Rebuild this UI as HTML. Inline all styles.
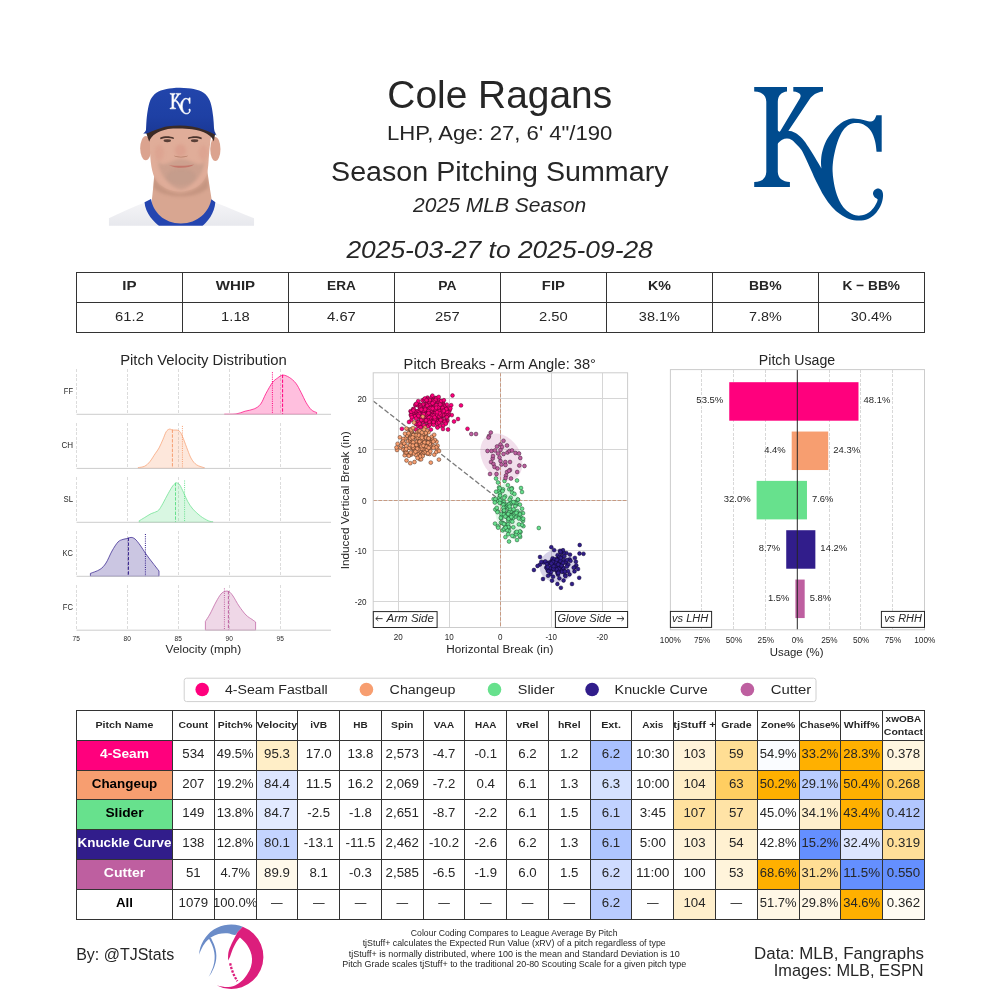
<!DOCTYPE html>
<html><head><meta charset="utf-8"><title>Cole Ragans - Season Pitching Summary</title>
<style>html,body{margin:0;padding:0;background:#fff;}body{width:1000px;height:1000px;overflow:hidden;font-family:"Liberation Sans",sans-serif;}svg{display:block;font-family:"Liberation Sans",sans-serif;}</style></head>
<body>
<svg width="1000" height="1000" viewBox="0 0 1000 1000" font-family="Liberation Sans, sans-serif">
<rect width="1000" height="1000" fill="#ffffff"/>
<g fill="#004B8E">
<path d="M754.2,87.1 H787.0 V91.6 C781.5,92.0 778.0,95.5 777.8,101.8 V172.0 C778.2,178.5 782.5,181.6 789.9,182.0 V186.9 H754.2 V182.0 C762.0,181.6 766.0,178.5 766.3,172.0 V101.8 C766.0,95.5 762.5,92.0 754.2,91.6 Z"/>
<path d="M793.3,87.1 H823.0 V91.6 C816.5,92.3 812.5,95.0 809.4,99.6 L788.3,131.0 L775.0,134.0 V128.0 L779.6,132.2 L799.8,98.5 C801.8,95.5 800.5,92.2 793.3,91.6 Z"/>
<path d="M775.00,132.50 C777.13,132.22 784.47,130.75 787.80,130.80 C791.13,130.85 792.60,131.53 795.00,132.80 C797.40,134.07 799.93,136.00 802.20,138.40 C804.47,140.80 806.47,144.00 808.60,147.20 C810.73,150.40 812.87,154.07 815.00,157.60 C817.13,161.13 820.33,166.60 821.40,168.40 C821.33,167.27 820.87,164.33 821.00,161.60 C821.13,158.87 821.33,155.47 822.20,152.00 C823.07,148.53 824.47,144.27 826.20,140.80 C827.93,137.33 830.47,133.87 832.60,131.20 C834.73,128.53 836.93,126.53 839.00,124.80 C841.07,123.07 842.70,121.83 845.00,120.80 C847.30,119.77 849.90,118.77 852.80,118.60 C855.70,118.43 859.60,119.30 862.40,119.80 C865.20,120.30 867.67,121.57 869.60,121.60 C871.53,121.63 872.87,121.07 874.00,120.00 C875.13,118.93 876.00,116.00 876.40,115.20 L881.70,115.20 L881.70,151.80 L876.60,151.80 C876.33,150.00 875.97,144.50 875.00,141.00 C874.03,137.50 872.70,133.53 870.80,130.80 C868.90,128.07 866.00,125.90 863.60,124.60 C861.20,123.30 858.75,123.00 856.40,123.00 C854.05,123.00 851.73,123.35 849.50,124.60 C847.27,125.85 844.88,127.93 843.00,130.50 C841.12,133.07 839.53,136.58 838.20,140.00 C836.87,143.42 835.87,147.33 835.00,151.00 C834.13,154.67 833.40,158.63 833.00,162.00 C832.60,165.37 832.50,168.03 832.60,171.20 C832.70,174.37 833.03,177.53 833.60,181.00 C834.17,184.47 834.93,188.50 836.00,192.00 C837.07,195.50 838.50,199.17 840.00,202.00 C841.50,204.83 843.00,207.00 845.00,209.00 C847.00,211.00 849.50,212.90 852.00,214.00 C854.50,215.10 857.33,215.77 860.00,215.60 C862.67,215.43 865.75,214.27 868.00,213.00 C870.25,211.73 872.00,209.83 873.50,208.00 C875.00,206.17 876.32,203.47 877.00,202.00 C877.68,200.53 877.50,199.67 877.60,199.20 C877.08,198.83 875.27,197.95 874.50,197.00 C873.73,196.05 873.00,194.67 873.00,193.50 C873.00,192.33 873.67,190.83 874.50,190.00 C875.33,189.17 876.83,188.50 878.00,188.50 C879.17,188.50 880.67,189.08 881.50,190.00 C882.33,190.92 882.83,192.33 883.00,194.00 C883.17,195.67 883.00,197.83 882.50,200.00 C882.00,202.17 881.25,204.67 880.00,207.00 C878.75,209.33 877.00,212.00 875.00,214.00 C873.00,216.00 870.67,217.90 868.00,219.00 C865.33,220.10 862.17,220.60 859.00,220.60 C855.83,220.60 852.17,220.10 849.00,219.00 C845.83,217.90 842.83,216.00 840.00,214.00 C837.17,212.00 834.67,210.00 832.00,207.00 C829.33,204.00 826.50,200.00 824.00,196.00 C821.50,192.00 819.17,187.33 817.00,183.00 C814.83,178.67 812.83,174.00 811.00,170.00 C809.17,166.00 807.58,162.33 806.00,159.00 C804.42,155.67 803.07,152.43 801.50,150.00 C799.93,147.57 798.22,146.07 796.60,144.40 C794.98,142.73 793.40,140.97 791.80,140.00 C790.20,139.03 788.60,138.63 787.00,138.60 C785.40,138.57 783.73,139.00 782.20,139.80 C780.67,140.60 779.00,142.45 777.80,143.40 C776.60,144.35 775.47,145.15 775.00,145.50 Z"/>
</g>
<defs>
<filter id="bl1" color-interpolation-filters="sRGB" x="-5%" y="-5%" width="110%" height="110%"><feGaussianBlur stdDeviation="4"/></filter>
<filter id="bl2" color-interpolation-filters="sRGB" x="-20%" y="-20%" width="140%" height="140%"><feGaussianBlur stdDeviation="10"/></filter>
<filter id="bl3" color-interpolation-filters="sRGB" x="-30%" y="-30%" width="160%" height="160%"><feGaussianBlur stdDeviation="18"/></filter>
<linearGradient id="capg" x1="0" y1="0" x2="0" y2="1"><stop offset="0" stop-color="#2245ab"/><stop offset="0.6" stop-color="#1e40a4"/><stop offset="1" stop-color="#1a3794"/></linearGradient>
<linearGradient id="jer" x1="0" y1="0" x2="0" y2="1"><stop offset="0" stop-color="#f4f4f7"/><stop offset="1" stop-color="#e6e7ec"/></linearGradient>
<clipPath id="phclip"><rect x="25" y="0" width="937" height="940"/></clipPath>
<clipPath id="skinclip"><path d="M292,300 C288,400 290,470 295,527 C300,570 308,600 319,629 C330,655 345,672 363,683 C380,695 398,704 417,710 C440,717 462,720 485,720 C510,720 535,715 559,707 C580,699 598,689 613,676 C632,660 645,640 654,615 C662,590 666,560 668,527 C672,470 676,400 697,300 Z M322,540 C318,640 308,720 300,800 C330,880 420,940 500,945 C580,940 660,880 692,800 C682,720 664,640 656,540 Z"/></clipPath>
</defs>
<g transform="translate(105 80) scale(0.155)" clip-path="url(#phclip)">
<g filter="url(#bl1)">
<path d="M25,960 L25,892 C90,860 170,822 262,788 L480,800 L705,788 C800,822 880,860 962,892 L962,960 Z" fill="url(#jer)"/>
<path d="M322,540 C318,640 308,720 300,800 C330,880 420,940 500,945 C580,940 660,880 692,800 C682,720 664,640 656,540 Z" fill="#d8a691"/>
<path d="M255,788 C262,870 330,935 400,975 L580,975 C650,935 705,870 712,788 L686,770 C672,850 600,926 490,926 C380,926 310,850 297,768 Z" fill="#2445b0"/>
<ellipse cx="263" cy="440" rx="36" ry="78" fill="#dba38f"/>
<ellipse cx="712" cy="445" rx="33" ry="78" fill="#dba38f"/>
<path d="M292,300 C288,400 290,470 295,527 C300,570 308,600 319,629 C330,655 345,672 363,683 C380,695 398,704 417,710 C440,717 462,720 485,720 C510,720 535,715 559,707 C580,699 598,689 613,676 C632,660 645,640 654,615 C662,590 666,560 668,527 C672,470 676,400 697,300 Z" fill="#e0ad99"/>
</g>
<g clip-path="url(#skinclip)"><g filter="url(#bl2)">
<path d="M312,620 C340,690 420,730 485,733 C550,730 630,690 662,620 L668,690 C600,770 380,770 308,690 Z" fill="#b98a76" opacity="0.6"/>
<path d="M340,520 C350,620 430,700 490,708 C550,700 635,620 645,520 C610,580 560,510 492,510 C425,510 375,580 340,520 Z" fill="#a88a7c" opacity="0.35"/>
<ellipse cx="490" cy="625" rx="95" ry="55" fill="#b59686" opacity="0.32"/>
<ellipse cx="487" cy="455" rx="36" ry="40" fill="#d99886" opacity="0.55"/>
<ellipse cx="350" cy="470" rx="30" ry="50" fill="#d99c8a" opacity="0.45"/>
<ellipse cx="635" cy="470" rx="30" ry="50" fill="#d99c8a" opacity="0.45"/>
</g></g>
<g filter="url(#bl1)">
<path d="M262,330 C330,300 420,285 485,283 C560,285 650,302 712,340 L702,396 C690,360 640,328 561,318 C520,312 450,312 406,316 C340,330 300,355 285,398 Z" fill="#3a2a26"/>
<path d="M355,372 C385,358 420,360 445,372 L443,380 C420,372 385,372 358,382 Z" fill="#4a332b"/>
<path d="M535,372 C560,360 595,358 625,372 L622,382 C595,372 560,372 537,380 Z" fill="#4a332b"/>
<ellipse cx="402" cy="392" rx="24" ry="9" fill="#5a4038"/>
<ellipse cx="578" cy="392" rx="24" ry="9" fill="#5a4038"/>
<path d="M412,548 C460,556 530,556 575,545 C540,572 460,574 412,548 Z" fill="#c4766a"/>
<path d="M445,487 C470,497 510,497 535,487 L530,493 C505,502 475,502 450,493 Z" fill="#b9826c"/>
<path d="M246.4,344.5 C258,338 263,330 264.5,321.3 C266,290 267,265 269.7,238.7 C273,210 277,185 282.6,161.3 C288,138 296,118 308.4,104.5 C322,88 340,76 360,68.4 C385,60 410,55 432.3,52.9 C450,50 468,49.3 483.9,49.3 C500,49.3 518,50.5 535.5,52.9 C560,55.5 585,60 607.7,68.4 C628,76 646,88 659.4,104.5 C672,120 680,140 685.2,161.3 C691,185 695,212 698.1,238.7 C701,262 702,288 703.3,311 C705,330 711,345 721.3,357.4 C712,352 700,346 690.3,341.9 C673,334 656,327 638.7,321.3 C612,312 587,305 561.3,300.6 C535,296 510,293.5 483.9,292.9 C458,293 432,294.5 406.5,298.1 C380,302 355,311 329,321.3 C312,328 294,335 277.4,341.9 C266,346 256,347 246.4,344.5 Z" fill="url(#capg)"/>
</g>
<g transform="translate(-349.98 -0.70) scale(1.02 1.0)"><g fill="#ffffff" stroke="#ffffff" stroke-width="3.5" stroke-linejoin="round"><path d="M754.2,87.1 H787.0 V91.6 C781.5,92.0 778.0,95.5 777.8,101.8 V172.0 C778.2,178.5 782.5,181.6 789.9,182.0 V186.9 H754.2 V182.0 C762.0,181.6 766.0,178.5 766.3,172.0 V101.8 C766.0,95.5 762.5,92.0 754.2,91.6 Z"/><path d="M793.3,87.1 H823.0 V91.6 C816.5,92.3 812.5,95.0 809.4,99.6 L788.3,131.0 L775.0,134.0 V128.0 L779.6,132.2 L799.8,98.5 C801.8,95.5 800.5,92.2 793.3,91.6 Z"/><path d="M775.00,132.50 C777.13,132.22 784.47,130.75 787.80,130.80 C791.13,130.85 792.60,131.53 795.00,132.80 C797.40,134.07 799.93,136.00 802.20,138.40 C804.47,140.80 806.47,144.00 808.60,147.20 C810.73,150.40 812.87,154.07 815.00,157.60 C817.13,161.13 820.33,166.60 821.40,168.40 C821.33,167.27 820.87,164.33 821.00,161.60 C821.13,158.87 821.33,155.47 822.20,152.00 C823.07,148.53 824.47,144.27 826.20,140.80 C827.93,137.33 830.47,133.87 832.60,131.20 C834.73,128.53 836.93,126.53 839.00,124.80 C841.07,123.07 842.70,121.83 845.00,120.80 C847.30,119.77 849.90,118.77 852.80,118.60 C855.70,118.43 859.60,119.30 862.40,119.80 C865.20,120.30 867.67,121.57 869.60,121.60 C871.53,121.63 872.87,121.07 874.00,120.00 C875.13,118.93 876.00,116.00 876.40,115.20 L881.70,115.20 L881.70,151.80 L876.60,151.80 C876.33,150.00 875.97,144.50 875.00,141.00 C874.03,137.50 872.70,133.53 870.80,130.80 C868.90,128.07 866.00,125.90 863.60,124.60 C861.20,123.30 858.75,123.00 856.40,123.00 C854.05,123.00 851.73,123.35 849.50,124.60 C847.27,125.85 844.88,127.93 843.00,130.50 C841.12,133.07 839.53,136.58 838.20,140.00 C836.87,143.42 835.87,147.33 835.00,151.00 C834.13,154.67 833.40,158.63 833.00,162.00 C832.60,165.37 832.50,168.03 832.60,171.20 C832.70,174.37 833.03,177.53 833.60,181.00 C834.17,184.47 834.93,188.50 836.00,192.00 C837.07,195.50 838.50,199.17 840.00,202.00 C841.50,204.83 843.00,207.00 845.00,209.00 C847.00,211.00 849.50,212.90 852.00,214.00 C854.50,215.10 857.33,215.77 860.00,215.60 C862.67,215.43 865.75,214.27 868.00,213.00 C870.25,211.73 872.00,209.83 873.50,208.00 C875.00,206.17 876.32,203.47 877.00,202.00 C877.68,200.53 877.50,199.67 877.60,199.20 C877.08,198.83 875.27,197.95 874.50,197.00 C873.73,196.05 873.00,194.67 873.00,193.50 C873.00,192.33 873.67,190.83 874.50,190.00 C875.33,189.17 876.83,188.50 878.00,188.50 C879.17,188.50 880.67,189.08 881.50,190.00 C882.33,190.92 882.83,192.33 883.00,194.00 C883.17,195.67 883.00,197.83 882.50,200.00 C882.00,202.17 881.25,204.67 880.00,207.00 C878.75,209.33 877.00,212.00 875.00,214.00 C873.00,216.00 870.67,217.90 868.00,219.00 C865.33,220.10 862.17,220.60 859.00,220.60 C855.83,220.60 852.17,220.10 849.00,219.00 C845.83,217.90 842.83,216.00 840.00,214.00 C837.17,212.00 834.67,210.00 832.00,207.00 C829.33,204.00 826.50,200.00 824.00,196.00 C821.50,192.00 819.17,187.33 817.00,183.00 C814.83,178.67 812.83,174.00 811.00,170.00 C809.17,166.00 807.58,162.33 806.00,159.00 C804.42,155.67 803.07,152.43 801.50,150.00 C799.93,147.57 798.22,146.07 796.60,144.40 C794.98,142.73 793.40,140.97 791.80,140.00 C790.20,139.03 788.60,138.63 787.00,138.60 C785.40,138.57 783.73,139.00 782.20,139.80 C780.67,140.60 779.00,142.45 777.80,143.40 C776.60,144.35 775.47,145.15 775.00,145.50 Z"/></g></g>
</g>
<text x="499.70" y="108.00" font-size="38.37" text-anchor="middle" fill="#262626" textLength="224.77" lengthAdjust="spacingAndGlyphs">Cole Ragans</text>
<text x="499.70" y="139.80" font-size="20.56" text-anchor="middle" fill="#262626" textLength="225.35" lengthAdjust="spacingAndGlyphs">LHP, Age: 27, 6' 4"/190</text>
<text x="499.80" y="181.00" font-size="27.35" text-anchor="middle" fill="#262626" textLength="337.43" lengthAdjust="spacingAndGlyphs">Season Pitching Summary</text>
<text x="499.60" y="211.80" font-size="20.56" font-style="italic" text-anchor="middle" fill="#262626" textLength="172.97" lengthAdjust="spacingAndGlyphs">2025 MLB Season</text>
<text x="499.60" y="258.00" font-size="24.49" font-style="italic" text-anchor="middle" fill="#262626" textLength="306.37" lengthAdjust="spacingAndGlyphs">2025-03-27 to 2025-09-28</text>
<g stroke="#333333" stroke-width="1" fill="none" shape-rendering="crispEdges">
<rect x="76.50" y="272.50" width="847.80" height="59.80"/>
<path d="M76.50,302.30H924.30"/>
<path d="M182.47,272.50V332.30"/>
<path d="M288.45,272.50V332.30"/>
<path d="M394.42,272.50V332.30"/>
<path d="M500.40,272.50V332.30"/>
<path d="M606.38,272.50V332.30"/>
<path d="M712.35,272.50V332.30"/>
<path d="M818.32,272.50V332.30"/>
</g>
<text x="129.49" y="290.20" font-size="13.67" font-weight="bold" text-anchor="middle" fill="#262626" textLength="14.25" lengthAdjust="spacingAndGlyphs">IP</text>
<text x="129.49" y="321.00" font-size="13.67" text-anchor="middle" fill="#262626" textLength="28.72" lengthAdjust="spacingAndGlyphs">61.2</text>
<text x="235.46" y="290.20" font-size="13.67" font-weight="bold" text-anchor="middle" fill="#262626" textLength="39.28" lengthAdjust="spacingAndGlyphs">WHIP</text>
<text x="235.46" y="321.00" font-size="13.67" text-anchor="middle" fill="#262626" textLength="28.72" lengthAdjust="spacingAndGlyphs">1.18</text>
<text x="341.44" y="290.20" font-size="13.67" font-weight="bold" text-anchor="middle" fill="#262626" textLength="28.73" lengthAdjust="spacingAndGlyphs">ERA</text>
<text x="341.44" y="321.00" font-size="13.67" text-anchor="middle" fill="#262626" textLength="28.72" lengthAdjust="spacingAndGlyphs">4.67</text>
<text x="447.41" y="290.20" font-size="13.67" font-weight="bold" text-anchor="middle" fill="#262626" textLength="18.25" lengthAdjust="spacingAndGlyphs">PA</text>
<text x="447.41" y="321.00" font-size="13.67" text-anchor="middle" fill="#262626" textLength="24.62" lengthAdjust="spacingAndGlyphs">257</text>
<text x="553.39" y="290.20" font-size="13.67" font-weight="bold" text-anchor="middle" fill="#262626" textLength="23.07" lengthAdjust="spacingAndGlyphs">FIP</text>
<text x="553.39" y="321.00" font-size="13.67" text-anchor="middle" fill="#262626" textLength="28.72" lengthAdjust="spacingAndGlyphs">2.50</text>
<text x="659.36" y="290.20" font-size="13.67" font-weight="bold" text-anchor="middle" fill="#262626" textLength="22.92" lengthAdjust="spacingAndGlyphs">K%</text>
<text x="659.36" y="321.00" font-size="13.67" text-anchor="middle" fill="#262626" textLength="40.98" lengthAdjust="spacingAndGlyphs">38.1%</text>
<text x="765.34" y="290.20" font-size="13.67" font-weight="bold" text-anchor="middle" fill="#262626" textLength="32.59" lengthAdjust="spacingAndGlyphs">BB%</text>
<text x="765.34" y="321.00" font-size="13.67" text-anchor="middle" fill="#262626" textLength="32.77" lengthAdjust="spacingAndGlyphs">7.8%</text>
<text x="871.31" y="290.20" font-size="13.67" font-weight="bold" text-anchor="middle" fill="#262626" textLength="57.39" lengthAdjust="spacingAndGlyphs">K − BB%</text>
<text x="871.31" y="321.00" font-size="13.67" text-anchor="middle" fill="#262626" textLength="40.98" lengthAdjust="spacingAndGlyphs">30.4%</text>
<text x="203.50" y="364.60" font-size="13.78" text-anchor="middle" fill="#262626" textLength="166.75" lengthAdjust="spacingAndGlyphs">Pitch Velocity Distribution</text>
<g stroke="#dcdcdc" stroke-width="1" stroke-dasharray="3,1.5" fill="none" shape-rendering="crispEdges">
<path d="M76.50,369.00V414.30"/>
<path d="M127.50,369.00V414.30"/>
<path d="M178.50,369.00V414.30"/>
<path d="M229.50,369.00V414.30"/>
<path d="M280.50,369.00V414.30"/>
<path d="M76.50,423.20V468.40"/>
<path d="M127.50,423.20V468.40"/>
<path d="M178.50,423.20V468.40"/>
<path d="M229.50,423.20V468.40"/>
<path d="M280.50,423.20V468.40"/>
<path d="M76.50,477.20V522.30"/>
<path d="M127.50,477.20V522.30"/>
<path d="M178.50,477.20V522.30"/>
<path d="M229.50,477.20V522.30"/>
<path d="M280.50,477.20V522.30"/>
<path d="M76.50,531.20V576.30"/>
<path d="M127.50,531.20V576.30"/>
<path d="M178.50,531.20V576.30"/>
<path d="M229.50,531.20V576.30"/>
<path d="M280.50,531.20V576.30"/>
<path d="M76.50,585.20V630.20"/>
<path d="M127.50,585.20V630.20"/>
<path d="M178.50,585.20V630.20"/>
<path d="M229.50,585.20V630.20"/>
<path d="M280.50,585.20V630.20"/>
</g>
<path d="M224.30,414.30 L224.30,414.30 C226.25,414.25 232.53,414.52 236.00,414.00 C239.47,413.48 242.07,412.05 245.10,411.20 C248.13,410.35 251.60,410.10 254.20,408.90 C256.80,407.70 258.75,406.55 260.70,404.00 C262.65,401.45 263.95,397.17 265.90,393.60 C267.85,390.03 270.45,385.20 272.40,382.60 C274.35,380.00 275.87,379.25 277.60,378.00 C279.33,376.75 280.85,375.20 282.80,375.10 C284.75,375.00 287.13,376.05 289.30,377.40 C291.47,378.75 293.85,380.72 295.80,383.20 C297.75,385.68 299.27,389.05 301.00,392.30 C302.73,395.55 304.47,399.77 306.20,402.70 C307.93,405.63 309.67,408.27 311.40,409.90 C313.13,411.53 315.73,412.07 316.60,412.50 L316.60,414.30 Z" fill="#FF007D" fill-opacity="0.25" stroke="#FF007D" stroke-opacity="0.8" stroke-width="0.9" stroke-linejoin="round"/>
<path d="M282.60,374.71V414.30" stroke="#FF007D" stroke-width="1" stroke-dasharray="3.4,1.4" fill="none"/>
<path d="M272.40,372.20V414.30" stroke="#FF007D" stroke-width="1" stroke-dasharray="1,1.2" fill="none"/>
<path d="M138.20,468.40 L138.20,467.60 C139.28,467.37 142.75,467.20 144.70,466.20 C146.65,465.20 148.17,463.67 149.90,461.60 C151.63,459.53 153.58,456.07 155.10,453.80 C156.62,451.53 157.70,450.38 159.00,448.00 C160.30,445.62 161.70,442.22 162.90,439.50 C164.10,436.78 165.12,433.43 166.20,431.70 C167.28,429.97 168.32,429.37 169.40,429.10 C170.48,428.83 171.40,429.93 172.70,430.10 C174.00,430.27 175.90,429.72 177.20,430.10 C178.50,430.48 179.42,430.83 180.50,432.40 C181.58,433.97 182.52,436.58 183.70,439.50 C184.88,442.42 186.30,446.65 187.60,449.90 C188.90,453.15 189.98,456.50 191.50,459.00 C193.02,461.50 194.53,463.43 196.70,464.90 C198.87,466.37 203.20,467.32 204.50,467.80 L204.50,468.40 Z" fill="#F79E70" fill-opacity="0.25" stroke="#F79E70" stroke-opacity="0.8" stroke-width="0.9" stroke-linejoin="round"/>
<path d="M172.40,429.51V468.40" stroke="#F79E70" stroke-width="1" stroke-dasharray="3.4,1.4" fill="none"/>
<path d="M182.40,425.90V468.40" stroke="#F79E70" stroke-width="1" stroke-dasharray="1,1.2" fill="none"/>
<path d="M139.20,522.30 L139.20,520.80 C140.12,520.25 142.70,518.70 144.70,517.50 C146.70,516.30 149.03,514.68 151.20,513.60 C153.37,512.52 155.97,512.30 157.70,511.00 C159.43,509.70 160.08,508.28 161.60,505.80 C163.12,503.32 165.07,499.23 166.80,496.10 C168.53,492.97 170.58,489.13 172.00,487.00 C173.42,484.87 174.43,483.97 175.30,483.30 C176.17,482.63 176.45,482.72 177.20,483.00 C177.95,483.28 178.72,483.37 179.80,485.00 C180.88,486.63 182.40,490.08 183.70,492.80 C185.00,495.52 186.08,498.60 187.60,501.30 C189.12,504.00 190.63,506.52 192.80,509.00 C194.97,511.48 198.00,514.23 200.60,516.20 C203.20,518.17 206.33,519.87 208.40,520.80 C210.47,521.73 212.23,521.63 213.00,521.80 L213.00,522.30 Z" fill="#67E18D" fill-opacity="0.25" stroke="#67E18D" stroke-opacity="0.8" stroke-width="0.9" stroke-linejoin="round"/>
<path d="M175.50,482.77V522.30" stroke="#67E18D" stroke-width="1" stroke-dasharray="3.4,1.4" fill="none"/>
<path d="M184.60,480.50V522.30" stroke="#67E18D" stroke-width="1" stroke-dasharray="1,1.2" fill="none"/>
<path d="M90.40,576.30 L90.40,573.40 C92.00,572.73 97.40,571.13 100.00,569.40 C102.60,567.67 104.00,566.07 106.00,563.00 C108.00,559.93 110.00,554.50 112.00,551.00 C114.00,547.50 116.17,543.93 118.00,542.00 C119.83,540.07 121.50,539.97 123.00,539.40 C124.50,538.83 125.67,538.93 127.00,538.60 C128.33,538.27 129.67,537.33 131.00,537.40 C132.33,537.47 133.50,537.73 135.00,539.00 C136.50,540.27 138.17,542.50 140.00,545.00 C141.83,547.50 144.00,551.17 146.00,554.00 C148.00,556.83 149.83,559.17 152.00,562.00 C154.17,564.83 157.83,569.50 159.00,571.00 L159.00,576.30 Z" fill="#311D8B" fill-opacity="0.25" stroke="#311D8B" stroke-opacity="0.8" stroke-width="0.9" stroke-linejoin="round"/>
<path d="M128.40,537.68V576.30" stroke="#311D8B" stroke-width="1" stroke-dasharray="3.4,1.4" fill="none"/>
<path d="M145.40,534.00V576.30" stroke="#311D8B" stroke-width="1" stroke-dasharray="1,1.2" fill="none"/>
<path d="M205.40,630.20 L205.40,621.40 C206.17,620.17 208.23,617.23 210.00,614.00 C211.77,610.77 214.17,605.33 216.00,602.00 C217.83,598.67 219.50,595.77 221.00,594.00 C222.50,592.23 223.67,591.80 225.00,591.40 C226.33,591.00 227.67,590.83 229.00,591.60 C230.33,592.37 231.33,593.60 233.00,596.00 C234.67,598.40 236.83,602.83 239.00,606.00 C241.17,609.17 243.83,612.77 246.00,615.00 C248.17,617.23 250.40,618.23 252.00,619.40 C253.60,620.57 255.00,621.57 255.60,622.00 L255.60,630.20 Z" fill="#BE5FA0" fill-opacity="0.25" stroke="#BE5FA0" stroke-opacity="0.8" stroke-width="0.9" stroke-linejoin="round"/>
<path d="M228.40,591.07V630.20" stroke="#BE5FA0" stroke-width="1" stroke-dasharray="3.4,1.4" fill="none"/>
<path d="M224.40,588.40V630.20" stroke="#BE5FA0" stroke-width="1" stroke-dasharray="1,1.2" fill="none"/>
<g stroke="#cccccc" stroke-width="1" fill="none">
<path d="M76.50,414.30H331.00"/>
<path d="M76.50,468.40H331.00"/>
<path d="M76.50,522.30H331.00"/>
<path d="M76.50,576.30H331.00"/>
<path d="M76.50,630.20H331.00"/>
</g>
<text x="73.00" y="393.80" font-size="9.75" text-anchor="end" fill="#262626" textLength="9.21" lengthAdjust="spacingAndGlyphs">FF</text>
<text x="73.00" y="447.90" font-size="9.75" text-anchor="end" fill="#262626" textLength="11.61" lengthAdjust="spacingAndGlyphs">CH</text>
<text x="73.00" y="501.80" font-size="9.75" text-anchor="end" fill="#262626" textLength="9.54" lengthAdjust="spacingAndGlyphs">SL</text>
<text x="73.00" y="555.80" font-size="9.75" text-anchor="end" fill="#262626" textLength="10.40" lengthAdjust="spacingAndGlyphs">KC</text>
<text x="73.00" y="609.70" font-size="9.75" text-anchor="end" fill="#262626" textLength="10.19" lengthAdjust="spacingAndGlyphs">FC</text>
<text x="76.20" y="641.00" font-size="6.89" text-anchor="middle" fill="#262626" textLength="7.28" lengthAdjust="spacingAndGlyphs">75</text>
<text x="127.20" y="641.00" font-size="6.89" text-anchor="middle" fill="#262626" textLength="7.28" lengthAdjust="spacingAndGlyphs">80</text>
<text x="178.20" y="641.00" font-size="6.89" text-anchor="middle" fill="#262626" textLength="7.28" lengthAdjust="spacingAndGlyphs">85</text>
<text x="229.20" y="641.00" font-size="6.89" text-anchor="middle" fill="#262626" textLength="7.28" lengthAdjust="spacingAndGlyphs">90</text>
<text x="280.20" y="641.00" font-size="6.89" text-anchor="middle" fill="#262626" textLength="7.28" lengthAdjust="spacingAndGlyphs">95</text>
<text x="203.40" y="653.00" font-size="11.02" text-anchor="middle" fill="#262626" textLength="75.54" lengthAdjust="spacingAndGlyphs">Velocity (mph)</text>
<text x="499.80" y="368.80" font-size="13.78" text-anchor="middle" fill="#262626" textLength="192.34" lengthAdjust="spacingAndGlyphs">Pitch Breaks - Arm Angle: 38°</text>
<rect x="373.20" y="372.80" width="254.40" height="254.70" fill="#fff" stroke="none"/>
<g stroke="#d6d6d6" stroke-width="1" fill="none" shape-rendering="crispEdges">
<path d="M602.50,372.80V627.50"/>
<path d="M373.20,601.50H627.60"/>
<path d="M551.50,372.80V627.50"/>
<path d="M373.20,550.50H627.60"/>
<path d="M500.50,372.80V627.50"/>
<path d="M373.20,500.50H627.60"/>
<path d="M449.50,372.80V627.50"/>
<path d="M373.20,449.50H627.60"/>
<path d="M398.50,372.80V627.50"/>
<path d="M373.20,398.50H627.60"/>
</g>
<g stroke="#c79a82" stroke-width="1" stroke-dasharray="3.6,1.6" fill="none">
<path d="M500.50,372.80V627.50"/>
<path d="M373.20,500.50H627.60"/>
</g>
<path d="M373.20,400.94L496.00,497.04" stroke="#7a7a7a" stroke-width="1.3" stroke-dasharray="5,2.2" fill="none"/>
<ellipse cx="432.50" cy="412.50" rx="17.00" ry="13.00" transform="rotate(-15 432.50 412.50)" fill="#FF007D" fill-opacity="0.12"/>
<ellipse cx="418.50" cy="443.00" rx="17.00" ry="14.00" transform="rotate(-10 418.50 443.00)" fill="#F79E70" fill-opacity="0.18"/>
<ellipse cx="501.40" cy="457.20" rx="25.50" ry="19.00" transform="rotate(57 501.40 457.20)" fill="#BE5FA0" fill-opacity="0.20"/>
<ellipse cx="508.60" cy="511.50" rx="28.00" ry="13.50" transform="rotate(80 508.60 511.50)" fill="#67E18D" fill-opacity="0.20"/>
<ellipse cx="557.40" cy="565.80" rx="18.00" ry="16.50" transform="rotate(-10 557.40 565.80)" fill="#311D8B" fill-opacity="0.20"/>
<g fill="#FF007D" stroke="#4d0626" stroke-width="0.55" stroke-opacity="0.9"><circle cx="430.2" cy="416.6" r="1.9"/><circle cx="429.0" cy="410.8" r="1.9"/><circle cx="423.0" cy="413.0" r="1.9"/><circle cx="441.9" cy="413.0" r="1.9"/><circle cx="441.0" cy="412.0" r="1.9"/><circle cx="435.3" cy="412.9" r="1.9"/><circle cx="418.4" cy="422.1" r="1.9"/><circle cx="436.8" cy="414.9" r="1.9"/><circle cx="422.9" cy="411.2" r="1.9"/><circle cx="434.1" cy="411.5" r="1.9"/><circle cx="434.9" cy="406.9" r="1.9"/><circle cx="434.9" cy="414.6" r="1.9"/><circle cx="428.7" cy="425.9" r="1.9"/><circle cx="438.4" cy="419.7" r="1.9"/><circle cx="424.8" cy="408.7" r="1.9"/><circle cx="428.3" cy="412.5" r="1.9"/><circle cx="437.5" cy="412.9" r="1.9"/><circle cx="425.9" cy="406.8" r="1.9"/><circle cx="429.1" cy="422.2" r="1.9"/><circle cx="424.9" cy="416.0" r="1.9"/><circle cx="432.6" cy="401.2" r="1.9"/><circle cx="434.2" cy="421.5" r="1.9"/><circle cx="413.3" cy="414.6" r="1.9"/><circle cx="429.1" cy="407.0" r="1.9"/><circle cx="435.7" cy="411.0" r="1.9"/><circle cx="420.2" cy="421.5" r="1.9"/><circle cx="439.0" cy="417.7" r="1.9"/><circle cx="444.7" cy="411.9" r="1.9"/><circle cx="430.3" cy="403.2" r="1.9"/><circle cx="435.8" cy="406.9" r="1.9"/><circle cx="425.3" cy="404.6" r="1.9"/><circle cx="422.1" cy="410.9" r="1.9"/><circle cx="419.2" cy="417.3" r="1.9"/><circle cx="445.1" cy="413.4" r="1.9"/><circle cx="433.3" cy="406.6" r="1.9"/><circle cx="423.4" cy="421.8" r="1.9"/><circle cx="441.4" cy="411.2" r="1.9"/><circle cx="434.4" cy="415.0" r="1.9"/><circle cx="446.5" cy="413.4" r="1.9"/><circle cx="437.0" cy="415.2" r="1.9"/><circle cx="420.0" cy="424.9" r="1.9"/><circle cx="440.8" cy="414.1" r="1.9"/><circle cx="413.2" cy="412.4" r="1.9"/><circle cx="435.7" cy="398.0" r="1.9"/><circle cx="431.7" cy="420.0" r="1.9"/><circle cx="422.9" cy="426.6" r="1.9"/><circle cx="436.1" cy="410.2" r="1.9"/><circle cx="435.5" cy="416.3" r="1.9"/><circle cx="434.5" cy="420.2" r="1.9"/><circle cx="425.0" cy="411.0" r="1.9"/><circle cx="440.6" cy="410.4" r="1.9"/><circle cx="425.5" cy="421.0" r="1.9"/><circle cx="443.5" cy="406.2" r="1.9"/><circle cx="419.2" cy="414.6" r="1.9"/><circle cx="429.7" cy="410.7" r="1.9"/><circle cx="442.0" cy="402.3" r="1.9"/><circle cx="440.3" cy="400.9" r="1.9"/><circle cx="425.7" cy="418.6" r="1.9"/><circle cx="442.9" cy="416.0" r="1.9"/><circle cx="434.8" cy="412.7" r="1.9"/><circle cx="433.8" cy="416.2" r="1.9"/><circle cx="430.4" cy="414.8" r="1.9"/><circle cx="436.5" cy="411.3" r="1.9"/><circle cx="439.2" cy="414.8" r="1.9"/><circle cx="449.6" cy="410.4" r="1.9"/><circle cx="427.1" cy="410.8" r="1.9"/><circle cx="433.0" cy="419.0" r="1.9"/><circle cx="429.2" cy="415.9" r="1.9"/><circle cx="422.1" cy="416.7" r="1.9"/><circle cx="435.4" cy="413.3" r="1.9"/><circle cx="428.9" cy="418.0" r="1.9"/><circle cx="433.1" cy="408.2" r="1.9"/><circle cx="426.5" cy="413.0" r="1.9"/><circle cx="429.4" cy="412.6" r="1.9"/><circle cx="438.3" cy="402.1" r="1.9"/><circle cx="432.6" cy="419.3" r="1.9"/><circle cx="441.6" cy="421.1" r="1.9"/><circle cx="416.0" cy="413.7" r="1.9"/><circle cx="429.6" cy="417.6" r="1.9"/><circle cx="438.5" cy="400.0" r="1.9"/><circle cx="434.9" cy="400.6" r="1.9"/><circle cx="435.1" cy="420.5" r="1.9"/><circle cx="430.5" cy="414.2" r="1.9"/><circle cx="438.7" cy="411.8" r="1.9"/><circle cx="433.4" cy="423.4" r="1.9"/><circle cx="440.1" cy="408.2" r="1.9"/><circle cx="439.0" cy="408.7" r="1.9"/><circle cx="433.9" cy="417.1" r="1.9"/><circle cx="434.6" cy="416.5" r="1.9"/><circle cx="415.5" cy="405.3" r="1.9"/><circle cx="435.2" cy="404.4" r="1.9"/><circle cx="420.0" cy="404.5" r="1.9"/><circle cx="443.9" cy="415.0" r="1.9"/><circle cx="442.7" cy="402.7" r="1.9"/><circle cx="429.5" cy="404.5" r="1.9"/><circle cx="441.0" cy="421.9" r="1.9"/><circle cx="426.4" cy="425.3" r="1.9"/><circle cx="439.8" cy="409.1" r="1.9"/><circle cx="429.6" cy="408.5" r="1.9"/><circle cx="435.7" cy="414.5" r="1.9"/><circle cx="442.8" cy="402.1" r="1.9"/><circle cx="444.0" cy="420.4" r="1.9"/><circle cx="443.9" cy="408.1" r="1.9"/><circle cx="426.8" cy="421.2" r="1.9"/><circle cx="432.7" cy="413.1" r="1.9"/><circle cx="443.5" cy="407.6" r="1.9"/><circle cx="410.8" cy="414.8" r="1.9"/><circle cx="416.7" cy="422.3" r="1.9"/><circle cx="433.2" cy="407.5" r="1.9"/><circle cx="432.9" cy="418.3" r="1.9"/><circle cx="434.5" cy="421.6" r="1.9"/><circle cx="432.8" cy="419.9" r="1.9"/><circle cx="447.3" cy="420.5" r="1.9"/><circle cx="427.2" cy="420.1" r="1.9"/><circle cx="413.2" cy="409.0" r="1.9"/><circle cx="416.2" cy="424.2" r="1.9"/><circle cx="420.7" cy="415.1" r="1.9"/><circle cx="429.8" cy="412.7" r="1.9"/><circle cx="426.7" cy="415.4" r="1.9"/><circle cx="447.2" cy="408.9" r="1.9"/><circle cx="437.9" cy="418.3" r="1.9"/><circle cx="427.6" cy="404.1" r="1.9"/><circle cx="428.5" cy="421.2" r="1.9"/><circle cx="416.1" cy="411.9" r="1.9"/><circle cx="441.7" cy="415.8" r="1.9"/><circle cx="433.0" cy="418.1" r="1.9"/><circle cx="430.9" cy="403.9" r="1.9"/><circle cx="416.7" cy="411.4" r="1.9"/><circle cx="438.6" cy="406.5" r="1.9"/><circle cx="422.3" cy="409.1" r="1.9"/><circle cx="417.9" cy="415.0" r="1.9"/><circle cx="421.8" cy="417.6" r="1.9"/><circle cx="411.5" cy="419.9" r="1.9"/><circle cx="422.5" cy="400.3" r="1.9"/><circle cx="437.3" cy="409.0" r="1.9"/><circle cx="410.5" cy="411.2" r="1.9"/><circle cx="433.2" cy="408.7" r="1.9"/><circle cx="439.6" cy="416.0" r="1.9"/><circle cx="437.9" cy="413.3" r="1.9"/><circle cx="444.3" cy="414.2" r="1.9"/><circle cx="431.8" cy="397.0" r="1.9"/><circle cx="441.6" cy="419.7" r="1.9"/><circle cx="428.1" cy="409.9" r="1.9"/><circle cx="424.6" cy="419.3" r="1.9"/><circle cx="447.8" cy="407.6" r="1.9"/><circle cx="438.0" cy="417.6" r="1.9"/><circle cx="423.4" cy="413.8" r="1.9"/><circle cx="435.5" cy="417.6" r="1.9"/><circle cx="430.9" cy="411.2" r="1.9"/><circle cx="422.0" cy="412.2" r="1.9"/><circle cx="439.5" cy="411.3" r="1.9"/><circle cx="422.6" cy="408.5" r="1.9"/><circle cx="437.8" cy="414.5" r="1.9"/><circle cx="447.0" cy="411.8" r="1.9"/><circle cx="431.8" cy="416.3" r="1.9"/><circle cx="416.3" cy="424.0" r="1.9"/><circle cx="433.1" cy="406.9" r="1.9"/><circle cx="446.2" cy="422.3" r="1.9"/><circle cx="418.1" cy="410.9" r="1.9"/><circle cx="434.4" cy="413.1" r="1.9"/><circle cx="426.3" cy="406.6" r="1.9"/><circle cx="451.8" cy="415.1" r="1.9"/><circle cx="418.7" cy="405.7" r="1.9"/><circle cx="448.1" cy="415.7" r="1.9"/><circle cx="448.8" cy="414.2" r="1.9"/><circle cx="424.3" cy="416.2" r="1.9"/><circle cx="411.3" cy="412.0" r="1.9"/><circle cx="431.9" cy="416.3" r="1.9"/><circle cx="424.9" cy="413.2" r="1.9"/><circle cx="436.2" cy="414.1" r="1.9"/><circle cx="437.4" cy="412.6" r="1.9"/><circle cx="430.0" cy="418.7" r="1.9"/><circle cx="430.5" cy="406.6" r="1.9"/><circle cx="426.0" cy="413.9" r="1.9"/><circle cx="430.8" cy="413.8" r="1.9"/><circle cx="431.8" cy="413.7" r="1.9"/><circle cx="428.1" cy="404.0" r="1.9"/><circle cx="437.0" cy="418.9" r="1.9"/><circle cx="435.0" cy="410.2" r="1.9"/><circle cx="433.7" cy="404.8" r="1.9"/><circle cx="415.0" cy="417.0" r="1.9"/><circle cx="424.7" cy="419.7" r="1.9"/><circle cx="425.2" cy="425.8" r="1.9"/><circle cx="425.8" cy="403.8" r="1.9"/><circle cx="425.7" cy="417.8" r="1.9"/><circle cx="436.1" cy="412.7" r="1.9"/><circle cx="445.7" cy="414.2" r="1.9"/><circle cx="432.4" cy="416.7" r="1.9"/><circle cx="447.6" cy="415.7" r="1.9"/><circle cx="438.6" cy="402.7" r="1.9"/><circle cx="431.5" cy="417.9" r="1.9"/><circle cx="430.8" cy="420.6" r="1.9"/><circle cx="438.3" cy="417.5" r="1.9"/><circle cx="442.0" cy="408.3" r="1.9"/><circle cx="430.0" cy="419.4" r="1.9"/><circle cx="440.1" cy="410.4" r="1.9"/><circle cx="421.6" cy="416.4" r="1.9"/><circle cx="436.6" cy="419.6" r="1.9"/><circle cx="438.4" cy="411.0" r="1.9"/><circle cx="439.9" cy="414.4" r="1.9"/><circle cx="433.4" cy="412.4" r="1.9"/><circle cx="430.6" cy="417.8" r="1.9"/><circle cx="421.2" cy="410.4" r="1.9"/><circle cx="429.0" cy="402.3" r="1.9"/><circle cx="424.2" cy="399.4" r="1.9"/><circle cx="426.5" cy="418.0" r="1.9"/><circle cx="436.4" cy="410.9" r="1.9"/><circle cx="427.0" cy="403.1" r="1.9"/><circle cx="448.4" cy="412.1" r="1.9"/><circle cx="439.5" cy="404.0" r="1.9"/><circle cx="426.7" cy="400.2" r="1.9"/><circle cx="439.9" cy="417.3" r="1.9"/><circle cx="414.8" cy="416.3" r="1.9"/><circle cx="433.9" cy="398.8" r="1.9"/><circle cx="413.7" cy="409.0" r="1.9"/><circle cx="423.6" cy="404.1" r="1.9"/><circle cx="432.2" cy="414.2" r="1.9"/><circle cx="438.3" cy="416.0" r="1.9"/><circle cx="446.7" cy="417.4" r="1.9"/><circle cx="419.2" cy="411.8" r="1.9"/><circle cx="420.4" cy="407.3" r="1.9"/><circle cx="430.8" cy="412.7" r="1.9"/><circle cx="433.0" cy="400.3" r="1.9"/><circle cx="420.7" cy="415.0" r="1.9"/><circle cx="429.2" cy="410.8" r="1.9"/><circle cx="429.6" cy="407.3" r="1.9"/><circle cx="438.2" cy="413.4" r="1.9"/><circle cx="429.6" cy="408.0" r="1.9"/><circle cx="423.0" cy="414.9" r="1.9"/><circle cx="418.7" cy="417.2" r="1.9"/><circle cx="430.4" cy="402.6" r="1.9"/><circle cx="428.8" cy="410.9" r="1.9"/><circle cx="436.6" cy="415.8" r="1.9"/><circle cx="429.7" cy="406.6" r="1.9"/><circle cx="430.1" cy="412.4" r="1.9"/><circle cx="438.4" cy="413.0" r="1.9"/><circle cx="422.8" cy="404.6" r="1.9"/><circle cx="427.0" cy="408.1" r="1.9"/><circle cx="421.6" cy="414.1" r="1.9"/><circle cx="427.4" cy="414.3" r="1.9"/><circle cx="435.4" cy="408.5" r="1.9"/><circle cx="451.2" cy="405.2" r="1.9"/><circle cx="441.3" cy="411.0" r="1.9"/><circle cx="425.4" cy="415.9" r="1.9"/><circle cx="436.5" cy="420.7" r="1.9"/><circle cx="439.8" cy="417.4" r="1.9"/><circle cx="435.7" cy="410.3" r="1.9"/><circle cx="434.1" cy="403.9" r="1.9"/><circle cx="440.0" cy="402.8" r="1.9"/><circle cx="437.4" cy="426.8" r="1.9"/><circle cx="429.6" cy="413.1" r="1.9"/><circle cx="441.7" cy="410.2" r="1.9"/><circle cx="424.9" cy="416.1" r="1.9"/><circle cx="437.8" cy="416.2" r="1.9"/><circle cx="427.8" cy="426.4" r="1.9"/><circle cx="446.1" cy="409.0" r="1.9"/><circle cx="433.1" cy="408.9" r="1.9"/><circle cx="442.6" cy="404.5" r="1.9"/><circle cx="436.6" cy="407.7" r="1.9"/><circle cx="426.7" cy="419.0" r="1.9"/><circle cx="443.1" cy="409.5" r="1.9"/><circle cx="427.0" cy="419.6" r="1.9"/><circle cx="431.6" cy="414.8" r="1.9"/><circle cx="446.8" cy="417.1" r="1.9"/><circle cx="430.9" cy="429.6" r="1.9"/><circle cx="432.9" cy="418.0" r="1.9"/><circle cx="425.8" cy="413.6" r="1.9"/><circle cx="441.3" cy="401.0" r="1.9"/><circle cx="415.5" cy="404.5" r="1.9"/><circle cx="441.0" cy="406.7" r="1.9"/><circle cx="430.4" cy="410.4" r="1.9"/><circle cx="428.5" cy="405.2" r="1.9"/><circle cx="429.2" cy="402.4" r="1.9"/><circle cx="431.4" cy="414.8" r="1.9"/><circle cx="435.2" cy="409.9" r="1.9"/><circle cx="423.9" cy="415.6" r="1.9"/><circle cx="430.0" cy="424.5" r="1.9"/><circle cx="438.0" cy="410.0" r="1.9"/><circle cx="426.2" cy="408.6" r="1.9"/><circle cx="422.7" cy="412.1" r="1.9"/><circle cx="435.0" cy="415.5" r="1.9"/><circle cx="440.1" cy="425.9" r="1.9"/><circle cx="425.4" cy="414.1" r="1.9"/><circle cx="427.2" cy="414.8" r="1.9"/><circle cx="433.6" cy="415.0" r="1.9"/><circle cx="430.1" cy="415.6" r="1.9"/><circle cx="433.3" cy="417.8" r="1.9"/><circle cx="413.4" cy="410.4" r="1.9"/><circle cx="429.7" cy="405.3" r="1.9"/><circle cx="423.5" cy="419.2" r="1.9"/><circle cx="426.9" cy="418.4" r="1.9"/><circle cx="438.5" cy="413.0" r="1.9"/><circle cx="435.8" cy="410.7" r="1.9"/><circle cx="419.1" cy="415.4" r="1.9"/><circle cx="434.5" cy="407.8" r="1.9"/><circle cx="431.9" cy="418.0" r="1.9"/><circle cx="424.9" cy="418.9" r="1.9"/><circle cx="446.8" cy="404.6" r="1.9"/><circle cx="432.5" cy="411.1" r="1.9"/><circle cx="445.5" cy="411.4" r="1.9"/><circle cx="438.1" cy="405.7" r="1.9"/><circle cx="431.3" cy="412.5" r="1.9"/><circle cx="418.5" cy="426.4" r="1.9"/><circle cx="436.3" cy="398.3" r="1.9"/><circle cx="437.8" cy="410.0" r="1.9"/><circle cx="436.1" cy="414.1" r="1.9"/><circle cx="418.0" cy="414.3" r="1.9"/><circle cx="443.5" cy="405.2" r="1.9"/><circle cx="420.2" cy="405.2" r="1.9"/><circle cx="421.4" cy="417.5" r="1.9"/><circle cx="447.0" cy="411.8" r="1.9"/><circle cx="437.5" cy="427.6" r="1.9"/><circle cx="425.8" cy="408.9" r="1.9"/><circle cx="437.1" cy="415.2" r="1.9"/><circle cx="420.6" cy="406.5" r="1.9"/><circle cx="434.5" cy="413.6" r="1.9"/><circle cx="419.7" cy="413.9" r="1.9"/><circle cx="427.6" cy="416.9" r="1.9"/><circle cx="430.3" cy="412.2" r="1.9"/><circle cx="430.2" cy="420.6" r="1.9"/><circle cx="443.0" cy="406.9" r="1.9"/><circle cx="437.6" cy="405.4" r="1.9"/><circle cx="433.4" cy="417.6" r="1.9"/><circle cx="444.1" cy="406.5" r="1.9"/><circle cx="431.2" cy="414.0" r="1.9"/><circle cx="418.4" cy="415.9" r="1.9"/><circle cx="426.2" cy="416.6" r="1.9"/><circle cx="418.2" cy="401.1" r="1.9"/><circle cx="432.3" cy="414.2" r="1.9"/><circle cx="428.3" cy="419.9" r="1.9"/><circle cx="428.1" cy="408.9" r="1.9"/><circle cx="432.9" cy="400.5" r="1.9"/><circle cx="425.5" cy="413.8" r="1.9"/><circle cx="438.6" cy="409.5" r="1.9"/><circle cx="433.1" cy="407.2" r="1.9"/><circle cx="437.0" cy="423.5" r="1.9"/><circle cx="425.9" cy="414.0" r="1.9"/><circle cx="434.8" cy="419.3" r="1.9"/><circle cx="438.2" cy="416.7" r="1.9"/><circle cx="433.7" cy="413.8" r="1.9"/><circle cx="440.3" cy="413.1" r="1.9"/><circle cx="443.9" cy="400.2" r="1.9"/><circle cx="437.9" cy="408.1" r="1.9"/><circle cx="443.3" cy="425.5" r="1.9"/><circle cx="431.0" cy="410.7" r="1.9"/><circle cx="425.7" cy="407.7" r="1.9"/><circle cx="427.1" cy="418.3" r="1.9"/><circle cx="431.9" cy="412.9" r="1.9"/><circle cx="431.6" cy="419.3" r="1.9"/><circle cx="435.6" cy="410.4" r="1.9"/><circle cx="437.0" cy="410.0" r="1.9"/><circle cx="424.0" cy="425.2" r="1.9"/><circle cx="433.9" cy="404.8" r="1.9"/><circle cx="441.5" cy="412.6" r="1.9"/><circle cx="420.6" cy="427.2" r="1.9"/><circle cx="436.0" cy="418.0" r="1.9"/><circle cx="433.0" cy="411.0" r="1.9"/><circle cx="419.7" cy="422.7" r="1.9"/><circle cx="431.3" cy="410.4" r="1.9"/><circle cx="434.7" cy="412.3" r="1.9"/><circle cx="436.8" cy="408.4" r="1.9"/><circle cx="427.5" cy="397.6" r="1.9"/><circle cx="429.0" cy="418.1" r="1.9"/><circle cx="442.5" cy="407.0" r="1.9"/><circle cx="433.2" cy="423.8" r="1.9"/><circle cx="429.9" cy="418.3" r="1.9"/><circle cx="446.2" cy="409.1" r="1.9"/><circle cx="441.0" cy="404.9" r="1.9"/><circle cx="433.2" cy="411.5" r="1.9"/><circle cx="434.5" cy="420.1" r="1.9"/><circle cx="427.3" cy="417.2" r="1.9"/><circle cx="423.2" cy="418.3" r="1.9"/><circle cx="436.0" cy="409.3" r="1.9"/><circle cx="433.4" cy="400.5" r="1.9"/><circle cx="435.4" cy="400.1" r="1.9"/><circle cx="424.4" cy="410.1" r="1.9"/><circle cx="429.5" cy="419.4" r="1.9"/><circle cx="431.5" cy="409.5" r="1.9"/><circle cx="439.0" cy="422.4" r="1.9"/><circle cx="432.2" cy="415.0" r="1.9"/><circle cx="442.8" cy="411.7" r="1.9"/><circle cx="431.9" cy="415.5" r="1.9"/><circle cx="441.1" cy="415.1" r="1.9"/><circle cx="427.3" cy="405.7" r="1.9"/><circle cx="434.2" cy="419.5" r="1.9"/><circle cx="420.2" cy="407.7" r="1.9"/><circle cx="427.9" cy="399.0" r="1.9"/><circle cx="428.5" cy="410.0" r="1.9"/><circle cx="434.2" cy="406.6" r="1.9"/><circle cx="423.1" cy="411.7" r="1.9"/><circle cx="429.9" cy="408.0" r="1.9"/><circle cx="432.9" cy="417.7" r="1.9"/><circle cx="444.8" cy="421.8" r="1.9"/><circle cx="423.9" cy="411.3" r="1.9"/><circle cx="425.1" cy="413.8" r="1.9"/><circle cx="433.7" cy="401.9" r="1.9"/><circle cx="435.5" cy="411.3" r="1.9"/><circle cx="416.1" cy="418.5" r="1.9"/><circle cx="438.7" cy="396.9" r="1.9"/><circle cx="438.9" cy="412.2" r="1.9"/><circle cx="436.4" cy="414.6" r="1.9"/><circle cx="442.5" cy="408.1" r="1.9"/><circle cx="438.4" cy="407.7" r="1.9"/><circle cx="436.4" cy="405.2" r="1.9"/><circle cx="433.6" cy="424.8" r="1.9"/><circle cx="435.1" cy="410.4" r="1.9"/><circle cx="420.1" cy="409.5" r="1.9"/><circle cx="434.8" cy="418.6" r="1.9"/><circle cx="436.1" cy="415.2" r="1.9"/><circle cx="433.5" cy="422.0" r="1.9"/><circle cx="427.1" cy="409.5" r="1.9"/><circle cx="439.4" cy="411.0" r="1.9"/><circle cx="428.1" cy="409.1" r="1.9"/><circle cx="430.3" cy="417.4" r="1.9"/><circle cx="432.5" cy="403.3" r="1.9"/><circle cx="435.5" cy="412.8" r="1.9"/><circle cx="424.1" cy="420.1" r="1.9"/><circle cx="428.5" cy="410.8" r="1.9"/><circle cx="440.7" cy="420.0" r="1.9"/><circle cx="426.3" cy="417.1" r="1.9"/><circle cx="429.3" cy="421.9" r="1.9"/><circle cx="427.3" cy="419.6" r="1.9"/><circle cx="428.6" cy="416.9" r="1.9"/><circle cx="429.5" cy="408.0" r="1.9"/><circle cx="450.4" cy="408.4" r="1.9"/><circle cx="418.6" cy="422.0" r="1.9"/><circle cx="418.5" cy="424.3" r="1.9"/><circle cx="426.7" cy="414.8" r="1.9"/><circle cx="442.7" cy="410.6" r="1.9"/><circle cx="416.4" cy="403.7" r="1.9"/><circle cx="443.1" cy="415.1" r="1.9"/><circle cx="425.9" cy="420.3" r="1.9"/><circle cx="437.0" cy="415.9" r="1.9"/><circle cx="411.2" cy="415.3" r="1.9"/><circle cx="440.6" cy="415.7" r="1.9"/><circle cx="433.8" cy="415.6" r="1.9"/><circle cx="428.7" cy="413.5" r="1.9"/><circle cx="438.5" cy="407.5" r="1.9"/><circle cx="440.1" cy="404.5" r="1.9"/><circle cx="432.9" cy="408.2" r="1.9"/><circle cx="431.7" cy="407.3" r="1.9"/><circle cx="419.5" cy="423.6" r="1.9"/><circle cx="433.2" cy="407.9" r="1.9"/><circle cx="435.0" cy="419.0" r="1.9"/><circle cx="422.8" cy="413.9" r="1.9"/><circle cx="437.1" cy="415.0" r="1.9"/><circle cx="424.9" cy="398.5" r="1.9"/><circle cx="442.9" cy="412.1" r="1.9"/><circle cx="431.1" cy="410.5" r="1.9"/><circle cx="433.1" cy="409.0" r="1.9"/><circle cx="421.3" cy="409.6" r="1.9"/><circle cx="425.2" cy="409.5" r="1.9"/><circle cx="422.5" cy="419.5" r="1.9"/><circle cx="421.2" cy="420.0" r="1.9"/><circle cx="423.3" cy="417.2" r="1.9"/><circle cx="443.9" cy="410.9" r="1.9"/><circle cx="425.2" cy="414.4" r="1.9"/><circle cx="429.8" cy="400.1" r="1.9"/><circle cx="426.5" cy="415.0" r="1.9"/><circle cx="427.5" cy="414.1" r="1.9"/><circle cx="439.2" cy="416.3" r="1.9"/><circle cx="440.4" cy="414.6" r="1.9"/><circle cx="429.0" cy="413.0" r="1.9"/><circle cx="428.6" cy="410.9" r="1.9"/><circle cx="426.9" cy="400.8" r="1.9"/><circle cx="428.5" cy="413.1" r="1.9"/><circle cx="423.0" cy="414.5" r="1.9"/><circle cx="435.7" cy="410.2" r="1.9"/><circle cx="426.5" cy="400.2" r="1.9"/><circle cx="435.5" cy="409.3" r="1.9"/><circle cx="432.4" cy="395.6" r="1.9"/><circle cx="439.6" cy="413.2" r="1.9"/><circle cx="430.7" cy="408.3" r="1.9"/><circle cx="436.2" cy="407.7" r="1.9"/><circle cx="432.6" cy="408.5" r="1.9"/><circle cx="411.8" cy="417.2" r="1.9"/><circle cx="434.6" cy="417.3" r="1.9"/><circle cx="423.8" cy="414.2" r="1.9"/><circle cx="437.1" cy="412.2" r="1.9"/><circle cx="445.8" cy="423.7" r="1.9"/><circle cx="461.0" cy="405.4" r="1.9"/><circle cx="467.5" cy="428.8" r="1.9"/><circle cx="401.9" cy="428.8" r="1.9"/><circle cx="409.0" cy="422.0" r="1.9"/><circle cx="415.8" cy="429.5" r="1.9"/><circle cx="452.5" cy="395.5" r="1.9"/><circle cx="448.0" cy="429.5" r="1.9"/><circle cx="443.0" cy="429.0" r="1.9"/><circle cx="458.0" cy="419.0" r="1.9"/><circle cx="454.0" cy="421.5" r="1.9"/></g>
<g fill="#F79E70" stroke="#4a2f20" stroke-width="0.55" stroke-opacity="0.9"><circle cx="407.8" cy="429.4" r="1.9"/><circle cx="427.4" cy="453.7" r="1.9"/><circle cx="427.5" cy="448.2" r="1.9"/><circle cx="411.5" cy="438.2" r="1.9"/><circle cx="425.8" cy="435.2" r="1.9"/><circle cx="399.9" cy="437.3" r="1.9"/><circle cx="410.9" cy="438.2" r="1.9"/><circle cx="419.6" cy="437.1" r="1.9"/><circle cx="430.4" cy="441.1" r="1.9"/><circle cx="408.7" cy="454.0" r="1.9"/><circle cx="412.6" cy="445.3" r="1.9"/><circle cx="417.6" cy="440.6" r="1.9"/><circle cx="420.6" cy="437.4" r="1.9"/><circle cx="405.3" cy="438.5" r="1.9"/><circle cx="417.8" cy="443.4" r="1.9"/><circle cx="423.4" cy="443.3" r="1.9"/><circle cx="409.9" cy="438.4" r="1.9"/><circle cx="397.6" cy="443.8" r="1.9"/><circle cx="423.0" cy="446.5" r="1.9"/><circle cx="416.7" cy="441.8" r="1.9"/><circle cx="427.0" cy="442.2" r="1.9"/><circle cx="425.5" cy="446.7" r="1.9"/><circle cx="421.1" cy="452.7" r="1.9"/><circle cx="412.2" cy="440.9" r="1.9"/><circle cx="409.7" cy="437.8" r="1.9"/><circle cx="434.3" cy="454.7" r="1.9"/><circle cx="418.7" cy="447.3" r="1.9"/><circle cx="429.9" cy="447.9" r="1.9"/><circle cx="428.5" cy="432.2" r="1.9"/><circle cx="412.3" cy="447.1" r="1.9"/><circle cx="431.8" cy="442.3" r="1.9"/><circle cx="409.5" cy="441.2" r="1.9"/><circle cx="411.0" cy="437.2" r="1.9"/><circle cx="431.8" cy="436.8" r="1.9"/><circle cx="419.9" cy="459.3" r="1.9"/><circle cx="429.6" cy="444.4" r="1.9"/><circle cx="412.5" cy="446.7" r="1.9"/><circle cx="434.0" cy="446.1" r="1.9"/><circle cx="430.1" cy="442.5" r="1.9"/><circle cx="422.8" cy="441.0" r="1.9"/><circle cx="423.1" cy="452.4" r="1.9"/><circle cx="404.3" cy="444.0" r="1.9"/><circle cx="419.8" cy="438.4" r="1.9"/><circle cx="415.7" cy="449.3" r="1.9"/><circle cx="437.6" cy="445.7" r="1.9"/><circle cx="419.9" cy="430.9" r="1.9"/><circle cx="436.5" cy="441.6" r="1.9"/><circle cx="416.8" cy="434.6" r="1.9"/><circle cx="416.6" cy="434.8" r="1.9"/><circle cx="419.0" cy="446.5" r="1.9"/><circle cx="418.5" cy="445.1" r="1.9"/><circle cx="411.0" cy="454.7" r="1.9"/><circle cx="410.3" cy="429.9" r="1.9"/><circle cx="415.6" cy="437.4" r="1.9"/><circle cx="408.1" cy="441.3" r="1.9"/><circle cx="419.8" cy="433.8" r="1.9"/><circle cx="417.8" cy="453.9" r="1.9"/><circle cx="424.4" cy="441.2" r="1.9"/><circle cx="419.1" cy="442.0" r="1.9"/><circle cx="418.1" cy="448.6" r="1.9"/><circle cx="417.1" cy="436.3" r="1.9"/><circle cx="423.7" cy="437.7" r="1.9"/><circle cx="421.1" cy="459.3" r="1.9"/><circle cx="407.1" cy="435.6" r="1.9"/><circle cx="400.4" cy="447.6" r="1.9"/><circle cx="410.4" cy="429.5" r="1.9"/><circle cx="404.3" cy="449.2" r="1.9"/><circle cx="410.3" cy="441.0" r="1.9"/><circle cx="422.2" cy="452.9" r="1.9"/><circle cx="437.4" cy="448.9" r="1.9"/><circle cx="419.5" cy="444.2" r="1.9"/><circle cx="436.3" cy="452.0" r="1.9"/><circle cx="415.4" cy="446.8" r="1.9"/><circle cx="420.8" cy="443.1" r="1.9"/><circle cx="412.2" cy="433.5" r="1.9"/><circle cx="411.7" cy="431.9" r="1.9"/><circle cx="430.1" cy="445.8" r="1.9"/><circle cx="407.6" cy="454.8" r="1.9"/><circle cx="425.0" cy="427.7" r="1.9"/><circle cx="436.2" cy="447.3" r="1.9"/><circle cx="423.4" cy="445.7" r="1.9"/><circle cx="420.1" cy="444.1" r="1.9"/><circle cx="426.9" cy="430.6" r="1.9"/><circle cx="405.0" cy="433.7" r="1.9"/><circle cx="412.2" cy="439.0" r="1.9"/><circle cx="421.7" cy="444.6" r="1.9"/><circle cx="417.8" cy="437.9" r="1.9"/><circle cx="414.5" cy="450.6" r="1.9"/><circle cx="425.4" cy="443.0" r="1.9"/><circle cx="416.2" cy="455.1" r="1.9"/><circle cx="412.8" cy="448.5" r="1.9"/><circle cx="428.8" cy="439.8" r="1.9"/><circle cx="425.0" cy="433.7" r="1.9"/><circle cx="427.8" cy="443.5" r="1.9"/><circle cx="403.4" cy="449.7" r="1.9"/><circle cx="410.5" cy="453.6" r="1.9"/><circle cx="411.4" cy="442.4" r="1.9"/><circle cx="420.4" cy="440.2" r="1.9"/><circle cx="420.0" cy="438.6" r="1.9"/><circle cx="424.4" cy="442.4" r="1.9"/><circle cx="429.1" cy="442.1" r="1.9"/><circle cx="401.1" cy="445.5" r="1.9"/><circle cx="423.3" cy="450.6" r="1.9"/><circle cx="408.9" cy="455.8" r="1.9"/><circle cx="417.1" cy="448.3" r="1.9"/><circle cx="413.6" cy="434.9" r="1.9"/><circle cx="429.2" cy="448.8" r="1.9"/><circle cx="433.4" cy="447.9" r="1.9"/><circle cx="411.2" cy="431.0" r="1.9"/><circle cx="411.3" cy="438.6" r="1.9"/><circle cx="410.7" cy="448.2" r="1.9"/><circle cx="420.9" cy="440.6" r="1.9"/><circle cx="419.5" cy="441.7" r="1.9"/><circle cx="420.6" cy="448.5" r="1.9"/><circle cx="426.6" cy="436.9" r="1.9"/><circle cx="404.7" cy="455.3" r="1.9"/><circle cx="420.0" cy="451.2" r="1.9"/><circle cx="402.1" cy="442.2" r="1.9"/><circle cx="417.1" cy="432.1" r="1.9"/><circle cx="413.7" cy="449.0" r="1.9"/><circle cx="429.6" cy="454.0" r="1.9"/><circle cx="408.6" cy="433.3" r="1.9"/><circle cx="423.7" cy="449.6" r="1.9"/><circle cx="418.8" cy="433.0" r="1.9"/><circle cx="426.1" cy="448.2" r="1.9"/><circle cx="422.9" cy="438.8" r="1.9"/><circle cx="421.5" cy="448.7" r="1.9"/><circle cx="411.2" cy="429.6" r="1.9"/><circle cx="421.5" cy="446.3" r="1.9"/><circle cx="418.8" cy="449.7" r="1.9"/><circle cx="412.3" cy="443.0" r="1.9"/><circle cx="415.5" cy="447.6" r="1.9"/><circle cx="433.0" cy="439.5" r="1.9"/><circle cx="426.0" cy="446.6" r="1.9"/><circle cx="434.8" cy="439.9" r="1.9"/><circle cx="416.1" cy="435.1" r="1.9"/><circle cx="423.6" cy="452.7" r="1.9"/><circle cx="423.4" cy="445.7" r="1.9"/><circle cx="416.2" cy="444.5" r="1.9"/><circle cx="405.2" cy="452.4" r="1.9"/><circle cx="413.2" cy="435.1" r="1.9"/><circle cx="410.2" cy="437.5" r="1.9"/><circle cx="427.0" cy="450.1" r="1.9"/><circle cx="405.8" cy="451.4" r="1.9"/><circle cx="426.0" cy="437.7" r="1.9"/><circle cx="403.2" cy="438.9" r="1.9"/><circle cx="412.2" cy="446.2" r="1.9"/><circle cx="413.0" cy="428.0" r="1.9"/><circle cx="419.0" cy="431.2" r="1.9"/><circle cx="425.7" cy="433.0" r="1.9"/><circle cx="410.7" cy="437.2" r="1.9"/><circle cx="413.9" cy="453.4" r="1.9"/><circle cx="426.6" cy="446.7" r="1.9"/><circle cx="419.8" cy="431.0" r="1.9"/><circle cx="412.6" cy="439.4" r="1.9"/><circle cx="409.1" cy="447.8" r="1.9"/><circle cx="410.4" cy="438.4" r="1.9"/><circle cx="406.4" cy="428.5" r="1.9"/><circle cx="424.7" cy="452.5" r="1.9"/><circle cx="418.9" cy="435.4" r="1.9"/><circle cx="429.8" cy="444.0" r="1.9"/><circle cx="428.0" cy="453.2" r="1.9"/><circle cx="428.4" cy="438.5" r="1.9"/><circle cx="428.7" cy="447.8" r="1.9"/><circle cx="403.0" cy="441.5" r="1.9"/><circle cx="404.3" cy="443.6" r="1.9"/><circle cx="422.7" cy="434.3" r="1.9"/><circle cx="422.8" cy="453.7" r="1.9"/><circle cx="406.2" cy="452.3" r="1.9"/><circle cx="416.2" cy="445.2" r="1.9"/><circle cx="417.3" cy="450.7" r="1.9"/><circle cx="428.0" cy="442.6" r="1.9"/><circle cx="405.6" cy="450.0" r="1.9"/><circle cx="414.0" cy="448.2" r="1.9"/><circle cx="421.8" cy="455.0" r="1.9"/><circle cx="428.5" cy="438.4" r="1.9"/><circle cx="422.7" cy="456.0" r="1.9"/><circle cx="413.2" cy="446.8" r="1.9"/><circle cx="430.4" cy="451.3" r="1.9"/><circle cx="421.9" cy="432.5" r="1.9"/><circle cx="406.2" cy="446.1" r="1.9"/><circle cx="410.7" cy="452.5" r="1.9"/><circle cx="424.0" cy="429.6" r="1.9"/><circle cx="410.3" cy="445.1" r="1.9"/><circle cx="413.2" cy="442.3" r="1.9"/><circle cx="421.8" cy="436.4" r="1.9"/><circle cx="421.9" cy="437.7" r="1.9"/><circle cx="413.2" cy="447.6" r="1.9"/><circle cx="412.8" cy="445.7" r="1.9"/><circle cx="433.3" cy="441.6" r="1.9"/><circle cx="417.2" cy="448.7" r="1.9"/><circle cx="415.4" cy="451.6" r="1.9"/><circle cx="406.2" cy="449.0" r="1.9"/><circle cx="412.5" cy="437.5" r="1.9"/><circle cx="434.2" cy="434.8" r="1.9"/><circle cx="430.8" cy="462.6" r="1.9"/><circle cx="438.9" cy="459.6" r="1.9"/><circle cx="410.3" cy="463.2" r="1.9"/><circle cx="406.5" cy="460.5" r="1.9"/><circle cx="414.5" cy="462.0" r="1.9"/><circle cx="397.0" cy="450.0" r="1.9"/><circle cx="396.5" cy="447.5" r="1.9"/><circle cx="439.0" cy="451.0" r="1.9"/><circle cx="422.8" cy="416.6" r="1.9"/><circle cx="414.0" cy="422.5" r="1.9"/><circle cx="420.0" cy="456.5" r="1.9"/><circle cx="417.5" cy="458.0" r="1.9"/></g>
<g fill="#67E18D" stroke="#1f4a2c" stroke-width="0.55" stroke-opacity="0.9"><circle cx="523.0" cy="520.9" r="1.9"/><circle cx="517.9" cy="499.8" r="1.9"/><circle cx="520.6" cy="531.9" r="1.9"/><circle cx="508.6" cy="512.4" r="1.9"/><circle cx="505.5" cy="506.2" r="1.9"/><circle cx="513.3" cy="517.9" r="1.9"/><circle cx="514.0" cy="536.3" r="1.9"/><circle cx="508.2" cy="520.5" r="1.9"/><circle cx="517.9" cy="499.5" r="1.9"/><circle cx="520.2" cy="536.9" r="1.9"/><circle cx="498.2" cy="501.0" r="1.9"/><circle cx="499.0" cy="490.9" r="1.9"/><circle cx="509.3" cy="489.3" r="1.9"/><circle cx="515.7" cy="532.5" r="1.9"/><circle cx="497.8" cy="511.4" r="1.9"/><circle cx="497.7" cy="526.1" r="1.9"/><circle cx="504.0" cy="511.2" r="1.9"/><circle cx="511.0" cy="521.1" r="1.9"/><circle cx="507.2" cy="514.5" r="1.9"/><circle cx="506.0" cy="516.0" r="1.9"/><circle cx="501.6" cy="516.0" r="1.9"/><circle cx="495.3" cy="509.5" r="1.9"/><circle cx="523.0" cy="513.2" r="1.9"/><circle cx="501.3" cy="518.6" r="1.9"/><circle cx="499.8" cy="493.4" r="1.9"/><circle cx="505.8" cy="524.3" r="1.9"/><circle cx="512.1" cy="512.4" r="1.9"/><circle cx="501.2" cy="500.8" r="1.9"/><circle cx="519.4" cy="515.9" r="1.9"/><circle cx="499.1" cy="487.3" r="1.9"/><circle cx="501.5" cy="514.1" r="1.9"/><circle cx="510.8" cy="511.7" r="1.9"/><circle cx="505.1" cy="496.3" r="1.9"/><circle cx="505.4" cy="537.1" r="1.9"/><circle cx="505.9" cy="525.8" r="1.9"/><circle cx="497.4" cy="512.1" r="1.9"/><circle cx="513.3" cy="527.3" r="1.9"/><circle cx="502.9" cy="522.9" r="1.9"/><circle cx="510.9" cy="504.0" r="1.9"/><circle cx="511.3" cy="501.8" r="1.9"/><circle cx="504.0" cy="514.5" r="1.9"/><circle cx="500.0" cy="495.9" r="1.9"/><circle cx="508.1" cy="524.4" r="1.9"/><circle cx="509.1" cy="530.9" r="1.9"/><circle cx="499.2" cy="498.0" r="1.9"/><circle cx="521.1" cy="517.7" r="1.9"/><circle cx="514.6" cy="502.3" r="1.9"/><circle cx="515.7" cy="516.6" r="1.9"/><circle cx="514.1" cy="513.7" r="1.9"/><circle cx="516.8" cy="504.3" r="1.9"/><circle cx="500.2" cy="495.6" r="1.9"/><circle cx="516.3" cy="503.2" r="1.9"/><circle cx="500.6" cy="502.7" r="1.9"/><circle cx="504.2" cy="497.8" r="1.9"/><circle cx="506.4" cy="506.1" r="1.9"/><circle cx="504.0" cy="502.0" r="1.9"/><circle cx="509.0" cy="507.9" r="1.9"/><circle cx="510.9" cy="517.1" r="1.9"/><circle cx="507.9" cy="485.1" r="1.9"/><circle cx="504.4" cy="504.1" r="1.9"/><circle cx="512.1" cy="492.6" r="1.9"/><circle cx="504.1" cy="510.9" r="1.9"/><circle cx="509.1" cy="527.3" r="1.9"/><circle cx="508.3" cy="527.0" r="1.9"/><circle cx="496.1" cy="491.7" r="1.9"/><circle cx="518.9" cy="518.5" r="1.9"/><circle cx="513.2" cy="515.1" r="1.9"/><circle cx="510.7" cy="497.6" r="1.9"/><circle cx="515.2" cy="506.1" r="1.9"/><circle cx="516.6" cy="514.2" r="1.9"/><circle cx="493.6" cy="499.1" r="1.9"/><circle cx="517.2" cy="511.1" r="1.9"/><circle cx="507.3" cy="517.6" r="1.9"/><circle cx="505.7" cy="507.3" r="1.9"/><circle cx="510.6" cy="515.8" r="1.9"/><circle cx="520.2" cy="513.1" r="1.9"/><circle cx="523.4" cy="526.2" r="1.9"/><circle cx="510.8" cy="515.7" r="1.9"/><circle cx="507.3" cy="504.6" r="1.9"/><circle cx="508.0" cy="505.7" r="1.9"/><circle cx="521.9" cy="519.4" r="1.9"/><circle cx="503.0" cy="489.4" r="1.9"/><circle cx="508.5" cy="508.6" r="1.9"/><circle cx="500.0" cy="500.2" r="1.9"/><circle cx="495.0" cy="523.6" r="1.9"/><circle cx="509.1" cy="512.1" r="1.9"/><circle cx="519.9" cy="514.3" r="1.9"/><circle cx="510.1" cy="509.0" r="1.9"/><circle cx="508.2" cy="534.2" r="1.9"/><circle cx="519.7" cy="535.5" r="1.9"/><circle cx="507.2" cy="514.7" r="1.9"/><circle cx="505.3" cy="527.5" r="1.9"/><circle cx="501.0" cy="522.7" r="1.9"/><circle cx="519.8" cy="531.4" r="1.9"/><circle cx="505.1" cy="529.2" r="1.9"/><circle cx="503.3" cy="504.8" r="1.9"/><circle cx="502.6" cy="530.4" r="1.9"/><circle cx="519.9" cy="504.6" r="1.9"/><circle cx="503.7" cy="510.3" r="1.9"/><circle cx="502.5" cy="491.1" r="1.9"/><circle cx="507.1" cy="530.2" r="1.9"/><circle cx="522.1" cy="508.7" r="1.9"/><circle cx="503.9" cy="508.0" r="1.9"/><circle cx="498.2" cy="527.7" r="1.9"/><circle cx="504.0" cy="529.0" r="1.9"/><circle cx="495.4" cy="499.1" r="1.9"/><circle cx="510.2" cy="503.7" r="1.9"/><circle cx="515.0" cy="513.3" r="1.9"/><circle cx="502.6" cy="523.3" r="1.9"/><circle cx="511.9" cy="488.2" r="1.9"/><circle cx="523.2" cy="518.7" r="1.9"/><circle cx="511.5" cy="488.9" r="1.9"/><circle cx="504.0" cy="510.1" r="1.9"/><circle cx="514.4" cy="493.9" r="1.9"/><circle cx="499.7" cy="488.3" r="1.9"/><circle cx="508.6" cy="518.8" r="1.9"/><circle cx="496.8" cy="507.9" r="1.9"/><circle cx="516.1" cy="534.2" r="1.9"/><circle cx="513.6" cy="509.4" r="1.9"/><circle cx="499.7" cy="502.9" r="1.9"/><circle cx="505.3" cy="516.6" r="1.9"/><circle cx="512.3" cy="535.8" r="1.9"/><circle cx="509.6" cy="499.7" r="1.9"/><circle cx="522.0" cy="524.9" r="1.9"/><circle cx="509.0" cy="504.5" r="1.9"/><circle cx="494.8" cy="502.5" r="1.9"/><circle cx="514.4" cy="502.6" r="1.9"/><circle cx="500.8" cy="517.8" r="1.9"/><circle cx="512.4" cy="521.7" r="1.9"/><circle cx="516.7" cy="531.8" r="1.9"/><circle cx="505.6" cy="527.6" r="1.9"/><circle cx="504.0" cy="524.0" r="1.9"/><circle cx="511.3" cy="517.0" r="1.9"/><circle cx="516.3" cy="512.8" r="1.9"/><circle cx="518.9" cy="524.4" r="1.9"/><circle cx="509.5" cy="506.5" r="1.9"/><circle cx="503.4" cy="507.8" r="1.9"/><circle cx="508.2" cy="513.9" r="1.9"/><circle cx="513.4" cy="502.0" r="1.9"/><circle cx="504.1" cy="510.5" r="1.9"/><circle cx="538.8" cy="528.0" r="1.9"/><circle cx="496.0" cy="478.5" r="1.9"/><circle cx="498.0" cy="482.5" r="1.9"/><circle cx="504.5" cy="481.0" r="1.9"/><circle cx="517.0" cy="480.5" r="1.9"/><circle cx="521.0" cy="488.0" r="1.9"/><circle cx="522.0" cy="492.0" r="1.9"/><circle cx="509.0" cy="541.5" r="1.9"/><circle cx="517.0" cy="540.0" r="1.9"/></g>
<g fill="#311D8B" stroke="#0c0628" stroke-width="0.55" stroke-opacity="0.9"><circle cx="557.0" cy="558.8" r="1.9"/><circle cx="569.6" cy="559.4" r="1.9"/><circle cx="557.1" cy="567.9" r="1.9"/><circle cx="559.3" cy="569.7" r="1.9"/><circle cx="559.4" cy="566.6" r="1.9"/><circle cx="539.9" cy="564.6" r="1.9"/><circle cx="559.1" cy="564.2" r="1.9"/><circle cx="549.1" cy="563.6" r="1.9"/><circle cx="558.1" cy="574.7" r="1.9"/><circle cx="551.5" cy="561.0" r="1.9"/><circle cx="552.4" cy="568.3" r="1.9"/><circle cx="557.6" cy="567.7" r="1.9"/><circle cx="557.8" cy="572.3" r="1.9"/><circle cx="570.0" cy="554.6" r="1.9"/><circle cx="557.8" cy="563.9" r="1.9"/><circle cx="557.6" cy="555.2" r="1.9"/><circle cx="561.5" cy="566.3" r="1.9"/><circle cx="554.1" cy="550.1" r="1.9"/><circle cx="552.6" cy="561.6" r="1.9"/><circle cx="543.6" cy="562.4" r="1.9"/><circle cx="563.4" cy="568.4" r="1.9"/><circle cx="557.3" cy="569.5" r="1.9"/><circle cx="551.8" cy="567.6" r="1.9"/><circle cx="557.9" cy="569.6" r="1.9"/><circle cx="556.0" cy="565.2" r="1.9"/><circle cx="554.8" cy="562.0" r="1.9"/><circle cx="576.3" cy="565.4" r="1.9"/><circle cx="563.6" cy="580.5" r="1.9"/><circle cx="566.4" cy="553.1" r="1.9"/><circle cx="563.8" cy="570.3" r="1.9"/><circle cx="574.5" cy="571.4" r="1.9"/><circle cx="561.6" cy="556.8" r="1.9"/><circle cx="549.9" cy="569.3" r="1.9"/><circle cx="559.6" cy="558.3" r="1.9"/><circle cx="553.0" cy="564.0" r="1.9"/><circle cx="557.8" cy="568.1" r="1.9"/><circle cx="552.6" cy="558.3" r="1.9"/><circle cx="569.5" cy="574.4" r="1.9"/><circle cx="557.4" cy="573.0" r="1.9"/><circle cx="561.5" cy="569.6" r="1.9"/><circle cx="559.8" cy="560.1" r="1.9"/><circle cx="563.1" cy="571.7" r="1.9"/><circle cx="552.0" cy="580.7" r="1.9"/><circle cx="574.6" cy="567.4" r="1.9"/><circle cx="553.1" cy="562.6" r="1.9"/><circle cx="550.1" cy="568.2" r="1.9"/><circle cx="557.5" cy="570.5" r="1.9"/><circle cx="575.9" cy="561.7" r="1.9"/><circle cx="563.2" cy="568.0" r="1.9"/><circle cx="558.8" cy="564.1" r="1.9"/><circle cx="554.6" cy="560.7" r="1.9"/><circle cx="558.3" cy="565.5" r="1.9"/><circle cx="558.3" cy="559.7" r="1.9"/><circle cx="557.2" cy="566.2" r="1.9"/><circle cx="560.4" cy="557.8" r="1.9"/><circle cx="561.7" cy="571.8" r="1.9"/><circle cx="561.3" cy="562.5" r="1.9"/><circle cx="552.3" cy="565.3" r="1.9"/><circle cx="565.1" cy="575.0" r="1.9"/><circle cx="554.6" cy="562.0" r="1.9"/><circle cx="560.2" cy="566.7" r="1.9"/><circle cx="548.1" cy="562.7" r="1.9"/><circle cx="556.9" cy="570.6" r="1.9"/><circle cx="545.3" cy="561.4" r="1.9"/><circle cx="559.3" cy="557.0" r="1.9"/><circle cx="558.2" cy="568.1" r="1.9"/><circle cx="554.4" cy="559.4" r="1.9"/><circle cx="555.8" cy="563.9" r="1.9"/><circle cx="558.4" cy="559.8" r="1.9"/><circle cx="563.6" cy="552.9" r="1.9"/><circle cx="555.3" cy="566.4" r="1.9"/><circle cx="564.0" cy="560.2" r="1.9"/><circle cx="560.6" cy="561.3" r="1.9"/><circle cx="565.5" cy="576.2" r="1.9"/><circle cx="554.1" cy="569.7" r="1.9"/><circle cx="550.4" cy="574.1" r="1.9"/><circle cx="567.0" cy="564.1" r="1.9"/><circle cx="547.8" cy="570.7" r="1.9"/><circle cx="568.0" cy="571.2" r="1.9"/><circle cx="561.1" cy="552.4" r="1.9"/><circle cx="553.1" cy="576.7" r="1.9"/><circle cx="548.1" cy="575.7" r="1.9"/><circle cx="573.7" cy="567.7" r="1.9"/><circle cx="565.8" cy="561.8" r="1.9"/><circle cx="546.3" cy="567.5" r="1.9"/><circle cx="555.1" cy="566.0" r="1.9"/><circle cx="562.5" cy="563.8" r="1.9"/><circle cx="559.0" cy="568.5" r="1.9"/><circle cx="559.4" cy="578.3" r="1.9"/><circle cx="560.6" cy="565.8" r="1.9"/><circle cx="554.2" cy="562.2" r="1.9"/><circle cx="568.3" cy="564.6" r="1.9"/><circle cx="546.9" cy="564.2" r="1.9"/><circle cx="555.0" cy="563.3" r="1.9"/><circle cx="564.3" cy="556.3" r="1.9"/><circle cx="561.1" cy="566.1" r="1.9"/><circle cx="547.0" cy="568.4" r="1.9"/><circle cx="556.7" cy="569.5" r="1.9"/><circle cx="553.4" cy="568.8" r="1.9"/><circle cx="541.3" cy="561.8" r="1.9"/><circle cx="564.9" cy="571.5" r="1.9"/><circle cx="555.8" cy="562.0" r="1.9"/><circle cx="563.0" cy="550.2" r="1.9"/><circle cx="551.0" cy="571.9" r="1.9"/><circle cx="560.8" cy="558.0" r="1.9"/><circle cx="543.0" cy="579.0" r="1.9"/><circle cx="556.8" cy="559.8" r="1.9"/><circle cx="558.5" cy="571.9" r="1.9"/><circle cx="560.1" cy="550.8" r="1.9"/><circle cx="560.8" cy="552.8" r="1.9"/><circle cx="566.9" cy="566.6" r="1.9"/><circle cx="574.9" cy="557.9" r="1.9"/><circle cx="558.3" cy="573.0" r="1.9"/><circle cx="550.4" cy="562.5" r="1.9"/><circle cx="553.6" cy="566.2" r="1.9"/><circle cx="548.4" cy="571.2" r="1.9"/><circle cx="561.5" cy="565.5" r="1.9"/><circle cx="570.6" cy="560.8" r="1.9"/><circle cx="567.0" cy="560.0" r="1.9"/><circle cx="560.4" cy="551.8" r="1.9"/><circle cx="558.2" cy="564.5" r="1.9"/><circle cx="551.8" cy="562.8" r="1.9"/><circle cx="552.9" cy="561.8" r="1.9"/><circle cx="537.5" cy="566.0" r="1.9"/><circle cx="551.4" cy="563.5" r="1.9"/><circle cx="547.7" cy="567.0" r="1.9"/><circle cx="563.0" cy="562.9" r="1.9"/><circle cx="533.9" cy="570.0" r="1.9"/><circle cx="551.3" cy="547.2" r="1.9"/><circle cx="579.7" cy="545.0" r="1.9"/><circle cx="583.5" cy="553.8" r="1.9"/><circle cx="579.2" cy="577.8" r="1.9"/><circle cx="572.0" cy="584.0" r="1.9"/><circle cx="560.9" cy="587.8" r="1.9"/><circle cx="557.4" cy="584.0" r="1.9"/><circle cx="579.5" cy="553.5" r="1.9"/><circle cx="578.0" cy="569.0" r="1.9"/><circle cx="540.0" cy="557.0" r="1.9"/></g>
<g fill="#BE5FA0" stroke="#3a1c32" stroke-width="0.55" stroke-opacity="0.9"><circle cx="471.3" cy="434.0" r="1.9"/><circle cx="476.0" cy="434.0" r="1.9"/><circle cx="490.8" cy="432.5" r="1.9"/><circle cx="489.0" cy="436.0" r="1.9"/><circle cx="488.5" cy="437.5" r="1.9"/><circle cx="503.5" cy="440.8" r="1.9"/><circle cx="500.5" cy="444.5" r="1.9"/><circle cx="507.0" cy="445.5" r="1.9"/><circle cx="487.5" cy="451.0" r="1.9"/><circle cx="491.5" cy="451.0" r="1.9"/><circle cx="495.0" cy="450.5" r="1.9"/><circle cx="500.5" cy="450.0" r="1.9"/><circle cx="498.0" cy="453.5" r="1.9"/><circle cx="503.5" cy="454.0" r="1.9"/><circle cx="507.5" cy="452.5" r="1.9"/><circle cx="509.5" cy="451.0" r="1.9"/><circle cx="512.0" cy="450.5" r="1.9"/><circle cx="515.5" cy="453.0" r="1.9"/><circle cx="519.0" cy="453.5" r="1.9"/><circle cx="520.3" cy="458.0" r="1.9"/><circle cx="492.7" cy="458.5" r="1.9"/><circle cx="491.0" cy="462.0" r="1.9"/><circle cx="493.5" cy="464.0" r="1.9"/><circle cx="494.5" cy="467.0" r="1.9"/><circle cx="497.5" cy="468.5" r="1.9"/><circle cx="500.5" cy="461.0" r="1.9"/><circle cx="501.5" cy="464.5" r="1.9"/><circle cx="505.3" cy="462.0" r="1.9"/><circle cx="510.0" cy="462.0" r="1.9"/><circle cx="505.5" cy="465.0" r="1.9"/><circle cx="519.3" cy="465.5" r="1.9"/><circle cx="524.5" cy="466.0" r="1.9"/><circle cx="510.0" cy="470.0" r="1.9"/><circle cx="507.0" cy="472.0" r="1.9"/><circle cx="517.2" cy="472.0" r="1.9"/><circle cx="490.0" cy="474.0" r="1.9"/><circle cx="496.5" cy="474.0" r="1.9"/><circle cx="506.0" cy="475.5" r="1.9"/><circle cx="505.5" cy="478.0" r="1.9"/><circle cx="511.0" cy="478.5" r="1.9"/><circle cx="509.0" cy="470.8" r="1.9"/><circle cx="493.0" cy="456.0" r="1.9"/><circle cx="502.0" cy="447.0" r="1.9"/><circle cx="499.5" cy="457.5" r="1.9"/><circle cx="497.0" cy="446.5" r="1.9"/></g>
<rect x="373.20" y="372.80" width="254.40" height="254.70" fill="none" stroke="#cccccc" stroke-width="1"/>
<rect x="373.3" y="611.6" width="63.8" height="15.9" fill="#fff" stroke="#262626" stroke-width="1"/>
<rect x="555.4" y="611.5" width="72.2" height="16" fill="#fff" stroke="#262626" stroke-width="1"/>
<text x="386.60" y="621.50" font-size="11.02" font-style="italic" text-anchor="start" fill="#262626" textLength="47.32" lengthAdjust="spacingAndGlyphs">Arm Side</text>
<path d="M382.6,618.6H375.8M378.2,616.4L375.8,618.6L378.2,620.8" stroke="#262626" stroke-width="0.9" fill="none"/>
<text x="557.40" y="621.50" font-size="11.02" font-style="italic" text-anchor="start" fill="#262626" textLength="53.99" lengthAdjust="spacingAndGlyphs">Glove Side</text>
<path d="M616.8,618.6H624.0M621.6,616.4L624.0,618.6L621.6,620.8" stroke="#262626" stroke-width="0.9" fill="none"/>
<text x="398.20" y="640.00" font-size="9.12" text-anchor="middle" fill="#262626" textLength="8.97" lengthAdjust="spacingAndGlyphs">20</text>
<text x="366.60" y="401.60" font-size="9.12" text-anchor="end" fill="#262626" textLength="9.19" lengthAdjust="spacingAndGlyphs">20</text>
<text x="449.20" y="640.00" font-size="9.12" text-anchor="middle" fill="#262626" textLength="8.97" lengthAdjust="spacingAndGlyphs">10</text>
<text x="366.60" y="452.60" font-size="9.12" text-anchor="end" fill="#262626" textLength="9.19" lengthAdjust="spacingAndGlyphs">10</text>
<text x="500.20" y="640.00" font-size="9.12" text-anchor="middle" fill="#262626" textLength="4.49" lengthAdjust="spacingAndGlyphs">0</text>
<text x="366.60" y="503.60" font-size="9.12" text-anchor="end" fill="#262626" textLength="4.60" lengthAdjust="spacingAndGlyphs">0</text>
<text x="551.20" y="640.00" font-size="9.12" text-anchor="middle" fill="#262626" textLength="11.52" lengthAdjust="spacingAndGlyphs">-10</text>
<text x="366.60" y="553.60" font-size="9.12" text-anchor="end" fill="#262626" textLength="11.80" lengthAdjust="spacingAndGlyphs">-10</text>
<text x="602.20" y="640.00" font-size="9.12" text-anchor="middle" fill="#262626" textLength="11.52" lengthAdjust="spacingAndGlyphs">-20</text>
<text x="366.60" y="604.60" font-size="9.12" text-anchor="end" fill="#262626" textLength="11.80" lengthAdjust="spacingAndGlyphs">-20</text>
<text x="499.80" y="652.50" font-size="11.02" text-anchor="middle" fill="#262626" textLength="107.29" lengthAdjust="spacingAndGlyphs">Horizontal Break (in)</text>
<text x="348.90" y="500.30" font-size="11.02" text-anchor="middle" fill="#262626" textLength="137.99" lengthAdjust="spacingAndGlyphs" transform="rotate(-90 348.90 500.30)">Induced Vertical Break (in)</text>
<text x="797.00" y="364.80" font-size="13.78" text-anchor="middle" fill="#262626" textLength="76.29" lengthAdjust="spacingAndGlyphs">Pitch Usage</text>
<rect x="670.40" y="369.60" width="254.10" height="260.20" fill="#fff" stroke="none"/>
<g stroke="#d8d8d8" stroke-width="1" stroke-dasharray="3,1.5" fill="none" shape-rendering="crispEdges">
<path d="M701.90,369.60V629.80"/>
<path d="M733.70,369.60V629.80"/>
<path d="M765.50,369.60V629.80"/>
<path d="M829.10,369.60V629.80"/>
<path d="M860.90,369.60V629.80"/>
<path d="M892.70,369.60V629.80"/>
</g>
<rect x="729.25" y="382.20" width="129.24" height="38.50" fill="#FF007D"/>
<text x="723.25" y="403.45" font-size="9.75" text-anchor="end" fill="#262626" textLength="26.89" lengthAdjust="spacingAndGlyphs">53.5%</text>
<text x="863.48" y="403.45" font-size="9.75" text-anchor="start" fill="#262626" textLength="26.89" lengthAdjust="spacingAndGlyphs">48.1%</text>
<rect x="791.70" y="431.54" width="36.51" height="38.50" fill="#F79E70"/>
<text x="785.70" y="452.79" font-size="9.75" text-anchor="end" fill="#262626" textLength="21.50" lengthAdjust="spacingAndGlyphs">4.4%</text>
<text x="833.21" y="452.79" font-size="9.75" text-anchor="start" fill="#262626" textLength="26.89" lengthAdjust="spacingAndGlyphs">24.3%</text>
<rect x="756.60" y="480.88" width="50.37" height="38.50" fill="#67E18D"/>
<text x="750.60" y="502.13" font-size="9.75" text-anchor="end" fill="#262626" textLength="26.89" lengthAdjust="spacingAndGlyphs">32.0%</text>
<text x="811.97" y="502.13" font-size="9.75" text-anchor="start" fill="#262626" textLength="21.50" lengthAdjust="spacingAndGlyphs">7.6%</text>
<rect x="786.23" y="530.22" width="29.13" height="38.50" fill="#311D8B"/>
<text x="780.23" y="551.47" font-size="9.75" text-anchor="end" fill="#262626" textLength="21.50" lengthAdjust="spacingAndGlyphs">8.7%</text>
<text x="820.36" y="551.47" font-size="9.75" text-anchor="start" fill="#262626" textLength="26.89" lengthAdjust="spacingAndGlyphs">14.2%</text>
<rect x="795.39" y="579.56" width="9.29" height="38.50" fill="#BE5FA0"/>
<text x="789.39" y="600.81" font-size="9.75" text-anchor="end" fill="#262626" textLength="21.50" lengthAdjust="spacingAndGlyphs">1.5%</text>
<text x="809.68" y="600.81" font-size="9.75" text-anchor="start" fill="#262626" textLength="21.50" lengthAdjust="spacingAndGlyphs">5.8%</text>
<path d="M797.30,369.60V629.80" stroke="#262626" stroke-width="1" fill="none"/>
<rect x="670.40" y="369.60" width="254.10" height="260.20" fill="none" stroke="#cccccc" stroke-width="1"/>
<rect x="670.4" y="611.4" width="41.2" height="16" fill="#fff" stroke="#262626" stroke-width="1"/>
<rect x="881.4" y="611.4" width="43.1" height="16" fill="#fff" stroke="#262626" stroke-width="1"/>
<text x="690.20" y="621.60" font-size="11.02" font-style="italic" text-anchor="middle" fill="#262626" textLength="36.31" lengthAdjust="spacingAndGlyphs">vs LHH</text>
<text x="903.00" y="621.60" font-size="11.02" font-style="italic" text-anchor="middle" fill="#262626" textLength="37.75" lengthAdjust="spacingAndGlyphs">vs RHH</text>
<text x="670.40" y="643.00" font-size="9.54" text-anchor="middle" fill="#262626" textLength="21.10" lengthAdjust="spacingAndGlyphs">100%</text>
<text x="702.20" y="643.00" font-size="9.54" text-anchor="middle" fill="#262626" textLength="16.40" lengthAdjust="spacingAndGlyphs">75%</text>
<text x="734.00" y="643.00" font-size="9.54" text-anchor="middle" fill="#262626" textLength="16.40" lengthAdjust="spacingAndGlyphs">50%</text>
<text x="765.80" y="643.00" font-size="9.54" text-anchor="middle" fill="#262626" textLength="16.40" lengthAdjust="spacingAndGlyphs">25%</text>
<text x="797.60" y="643.00" font-size="9.54" text-anchor="middle" fill="#262626" textLength="11.71" lengthAdjust="spacingAndGlyphs">0%</text>
<text x="829.40" y="643.00" font-size="9.54" text-anchor="middle" fill="#262626" textLength="16.40" lengthAdjust="spacingAndGlyphs">25%</text>
<text x="861.20" y="643.00" font-size="9.54" text-anchor="middle" fill="#262626" textLength="16.40" lengthAdjust="spacingAndGlyphs">50%</text>
<text x="893.00" y="643.00" font-size="9.54" text-anchor="middle" fill="#262626" textLength="16.40" lengthAdjust="spacingAndGlyphs">75%</text>
<text x="924.80" y="643.00" font-size="9.54" text-anchor="middle" fill="#262626" textLength="21.10" lengthAdjust="spacingAndGlyphs">100%</text>
<text x="796.60" y="655.60" font-size="11.02" text-anchor="middle" fill="#262626" textLength="53.71" lengthAdjust="spacingAndGlyphs">Usage (%)</text>
<rect x="184.2" y="678.2" width="631.8" height="23.4" rx="2.4" fill="#fff" stroke="#d0d0d0" stroke-width="1"/>
<circle cx="202.2" cy="689.5" r="6.8" fill="#FF007D"/>
<text x="225.00" y="693.50" font-size="13.67" text-anchor="start" fill="#262626" textLength="102.74" lengthAdjust="spacingAndGlyphs">4-Seam Fastball</text>
<circle cx="366.4" cy="689.5" r="6.8" fill="#F79E70"/>
<text x="389.60" y="693.50" font-size="13.67" text-anchor="start" fill="#262626" textLength="65.75" lengthAdjust="spacingAndGlyphs">Changeup</text>
<circle cx="494.5" cy="689.5" r="6.8" fill="#67E18D"/>
<text x="517.80" y="693.50" font-size="13.67" text-anchor="start" fill="#262626" textLength="36.79" lengthAdjust="spacingAndGlyphs">Slider</text>
<circle cx="592.1" cy="689.5" r="6.8" fill="#311D8B"/>
<text x="614.60" y="693.50" font-size="13.67" text-anchor="start" fill="#262626" textLength="93.05" lengthAdjust="spacingAndGlyphs">Knuckle Curve</text>
<circle cx="747.4" cy="689.5" r="6.8" fill="#BE5FA0"/>
<text x="770.80" y="693.50" font-size="13.67" text-anchor="start" fill="#262626" textLength="40.54" lengthAdjust="spacingAndGlyphs">Cutter</text>
<rect x="76.50" y="740.20" width="96.00" height="29.80" fill="#FF007D"/>
<rect x="256.03" y="740.20" width="41.77" height="29.80" fill="#FFEEC7"/>
<rect x="590.17" y="740.20" width="41.77" height="29.80" fill="#AAC1FF"/>
<rect x="673.70" y="740.20" width="41.77" height="29.80" fill="#FFF3D9"/>
<rect x="715.47" y="740.20" width="41.77" height="29.80" fill="#FFDE94"/>
<rect x="757.23" y="740.20" width="41.77" height="29.80" fill="#FAFCFF"/>
<rect x="799.00" y="740.20" width="41.77" height="29.80" fill="#FFB000"/>
<rect x="840.77" y="740.20" width="41.77" height="29.80" fill="#FFB000"/>
<rect x="882.53" y="740.20" width="41.77" height="29.80" fill="#FFF6E0"/>
<rect x="76.50" y="770.00" width="96.00" height="29.80" fill="#F79E70"/>
<rect x="256.03" y="770.00" width="41.77" height="29.80" fill="#DDE6FF"/>
<rect x="590.17" y="770.00" width="41.77" height="29.80" fill="#D5E1FF"/>
<rect x="673.70" y="770.00" width="41.77" height="29.80" fill="#FFEEC7"/>
<rect x="715.47" y="770.00" width="41.77" height="29.80" fill="#FFCE61"/>
<rect x="757.23" y="770.00" width="41.77" height="29.80" fill="#FFB000"/>
<rect x="799.00" y="770.00" width="41.77" height="29.80" fill="#B9CDFF"/>
<rect x="840.77" y="770.00" width="41.77" height="29.80" fill="#FFB000"/>
<rect x="882.53" y="770.00" width="41.77" height="29.80" fill="#FFCC59"/>
<rect x="76.50" y="799.80" width="96.00" height="29.80" fill="#67E18D"/>
<rect x="256.03" y="799.80" width="41.77" height="29.80" fill="#E2EAFF"/>
<rect x="590.17" y="799.80" width="41.77" height="29.80" fill="#C1D2FF"/>
<rect x="673.70" y="799.80" width="41.77" height="29.80" fill="#FFE19E"/>
<rect x="715.47" y="799.80" width="41.77" height="29.80" fill="#FFE3A6"/>
<rect x="799.00" y="799.80" width="41.77" height="29.80" fill="#FFEFCC"/>
<rect x="840.77" y="799.80" width="41.77" height="29.80" fill="#FFB000"/>
<rect x="882.53" y="799.80" width="41.77" height="29.80" fill="#B2C7FF"/>
<rect x="76.50" y="829.60" width="96.00" height="29.80" fill="#311D8B"/>
<rect x="256.03" y="829.60" width="41.77" height="29.80" fill="#C4D4FF"/>
<rect x="590.17" y="829.60" width="41.77" height="29.80" fill="#AEC5FF"/>
<rect x="673.70" y="829.60" width="41.77" height="29.80" fill="#FFF3D9"/>
<rect x="715.47" y="829.60" width="41.77" height="29.80" fill="#FFF1D1"/>
<rect x="799.00" y="829.60" width="41.77" height="29.80" fill="#648FFF"/>
<rect x="840.77" y="829.60" width="41.77" height="29.80" fill="#DDE6FF"/>
<rect x="882.53" y="829.60" width="41.77" height="29.80" fill="#FFDF99"/>
<rect x="76.50" y="859.40" width="96.00" height="29.80" fill="#BE5FA0"/>
<rect x="256.03" y="859.40" width="41.77" height="29.80" fill="#FFF9EB"/>
<rect x="590.17" y="859.40" width="41.77" height="29.80" fill="#CFDCFF"/>
<rect x="673.70" y="859.40" width="41.77" height="29.80" fill="#FFFDFA"/>
<rect x="715.47" y="859.40" width="41.77" height="29.80" fill="#FFF4DB"/>
<rect x="757.23" y="859.40" width="41.77" height="29.80" fill="#FFB000"/>
<rect x="799.00" y="859.40" width="41.77" height="29.80" fill="#FFDE94"/>
<rect x="840.77" y="859.40" width="41.77" height="29.80" fill="#648FFF"/>
<rect x="882.53" y="859.40" width="41.77" height="29.80" fill="#648FFF"/>
<rect x="590.17" y="889.20" width="41.77" height="29.80" fill="#B8CBFF"/>
<rect x="673.70" y="889.20" width="41.77" height="29.80" fill="#FFEFCC"/>
<rect x="757.23" y="889.20" width="41.77" height="29.80" fill="#FFF7E6"/>
<rect x="799.00" y="889.20" width="41.77" height="29.80" fill="#FFF7E6"/>
<rect x="840.77" y="889.20" width="41.77" height="29.80" fill="#FFB000"/>
<rect x="882.53" y="889.20" width="41.77" height="29.80" fill="#FFFBF2"/>
<g stroke="#333333" stroke-width="1" fill="none" shape-rendering="crispEdges">
<rect x="76.50" y="710.40" width="847.80" height="208.60"/>
<path d="M76.50,740.20H924.30"/>
<path d="M76.50,770.00H924.30"/>
<path d="M76.50,799.80H924.30"/>
<path d="M76.50,829.60H924.30"/>
<path d="M76.50,859.40H924.30"/>
<path d="M76.50,889.20H924.30"/>
<path d="M172.50,710.40V919.00"/>
<path d="M214.27,710.40V919.00"/>
<path d="M256.03,710.40V919.00"/>
<path d="M297.80,710.40V919.00"/>
<path d="M339.57,710.40V919.00"/>
<path d="M381.33,710.40V919.00"/>
<path d="M423.10,710.40V919.00"/>
<path d="M464.87,710.40V919.00"/>
<path d="M506.63,710.40V919.00"/>
<path d="M548.40,710.40V919.00"/>
<path d="M590.17,710.40V919.00"/>
<path d="M631.93,710.40V919.00"/>
<path d="M673.70,710.40V919.00"/>
<path d="M715.47,710.40V919.00"/>
<path d="M757.23,710.40V919.00"/>
<path d="M799.00,710.40V919.00"/>
<path d="M840.77,710.40V919.00"/>
<path d="M882.53,710.40V919.00"/>
</g>
<text x="124.50" y="728.00" font-size="9.54" font-weight="bold" text-anchor="middle" fill="#262626" textLength="57.95" lengthAdjust="spacingAndGlyphs">Pitch Name</text>
<text x="193.38" y="728.00" font-size="9.54" font-weight="bold" text-anchor="middle" fill="#262626" textLength="29.91" lengthAdjust="spacingAndGlyphs">Count</text>
<text x="235.15" y="728.00" font-size="9.54" font-weight="bold" text-anchor="middle" fill="#262626" textLength="34.74" lengthAdjust="spacingAndGlyphs">Pitch%</text>
<text x="276.92" y="728.00" font-size="9.54" font-weight="bold" text-anchor="middle" fill="#262626" textLength="40.43" lengthAdjust="spacingAndGlyphs">Velocity</text>
<text x="318.68" y="728.00" font-size="9.54" font-weight="bold" text-anchor="middle" fill="#262626" textLength="16.91" lengthAdjust="spacingAndGlyphs">iVB</text>
<text x="360.45" y="728.00" font-size="9.54" font-weight="bold" text-anchor="middle" fill="#262626" textLength="14.39" lengthAdjust="spacingAndGlyphs">HB</text>
<text x="402.22" y="728.00" font-size="9.54" font-weight="bold" text-anchor="middle" fill="#262626" textLength="22.42" lengthAdjust="spacingAndGlyphs">Spin</text>
<text x="443.98" y="728.00" font-size="9.54" font-weight="bold" text-anchor="middle" fill="#262626" textLength="20.29" lengthAdjust="spacingAndGlyphs">VAA</text>
<text x="485.75" y="728.00" font-size="9.54" font-weight="bold" text-anchor="middle" fill="#262626" textLength="21.46" lengthAdjust="spacingAndGlyphs">HAA</text>
<text x="527.52" y="728.00" font-size="9.54" font-weight="bold" text-anchor="middle" fill="#262626" textLength="21.99" lengthAdjust="spacingAndGlyphs">vRel</text>
<text x="569.28" y="728.00" font-size="9.54" font-weight="bold" text-anchor="middle" fill="#262626" textLength="22.53" lengthAdjust="spacingAndGlyphs">hRel</text>
<text x="611.05" y="728.00" font-size="9.54" font-weight="bold" text-anchor="middle" fill="#262626" textLength="19.67" lengthAdjust="spacingAndGlyphs">Ext.</text>
<text x="652.82" y="728.00" font-size="9.54" font-weight="bold" text-anchor="middle" fill="#262626" textLength="21.21" lengthAdjust="spacingAndGlyphs">Axis</text>
<text x="694.58" y="728.00" font-size="9.54" font-weight="bold" text-anchor="middle" fill="#262626" textLength="42.54" lengthAdjust="spacingAndGlyphs">tjStuff +</text>
<text x="736.35" y="728.00" font-size="9.54" font-weight="bold" text-anchor="middle" fill="#262626" textLength="30.45" lengthAdjust="spacingAndGlyphs">Grade</text>
<text x="778.12" y="728.00" font-size="9.54" font-weight="bold" text-anchor="middle" fill="#262626" textLength="34.24" lengthAdjust="spacingAndGlyphs">Zone%</text>
<text x="819.88" y="728.00" font-size="9.54" font-weight="bold" text-anchor="middle" fill="#262626" textLength="39.56" lengthAdjust="spacingAndGlyphs">Chase%</text>
<text x="861.65" y="728.00" font-size="9.54" font-weight="bold" text-anchor="middle" fill="#262626" textLength="35.73" lengthAdjust="spacingAndGlyphs">Whiff%</text>
<text x="903.42" y="721.70" font-size="9.54" font-weight="bold" text-anchor="middle" fill="#262626" textLength="35.60" lengthAdjust="spacingAndGlyphs">xwOBA</text>
<text x="903.42" y="734.60" font-size="9.54" font-weight="bold" text-anchor="middle" fill="#262626" textLength="39.21" lengthAdjust="spacingAndGlyphs">Contact</text>
<text x="124.50" y="757.80" font-size="12.30" font-weight="bold" text-anchor="middle" fill="#ffffff" textLength="49.02" lengthAdjust="spacingAndGlyphs">4-Seam</text>
<text x="193.38" y="757.80" font-size="12.30" text-anchor="middle" fill="#262626" textLength="22.14" lengthAdjust="spacingAndGlyphs">534</text>
<text x="235.15" y="757.80" font-size="12.30" text-anchor="middle" fill="#262626" textLength="36.85" lengthAdjust="spacingAndGlyphs">49.5%</text>
<text x="276.92" y="757.80" font-size="12.30" text-anchor="middle" fill="#262626" textLength="25.83" lengthAdjust="spacingAndGlyphs">95.3</text>
<text x="318.68" y="757.80" font-size="12.30" text-anchor="middle" fill="#262626" textLength="25.83" lengthAdjust="spacingAndGlyphs">17.0</text>
<text x="360.45" y="757.80" font-size="12.30" text-anchor="middle" fill="#262626" textLength="25.83" lengthAdjust="spacingAndGlyphs">13.8</text>
<text x="402.22" y="757.80" font-size="12.30" text-anchor="middle" fill="#262626" textLength="33.21" lengthAdjust="spacingAndGlyphs">2,573</text>
<text x="443.98" y="757.80" font-size="12.30" text-anchor="middle" fill="#262626" textLength="22.63" lengthAdjust="spacingAndGlyphs">-4.7</text>
<text x="485.75" y="757.80" font-size="12.30" text-anchor="middle" fill="#262626" textLength="22.63" lengthAdjust="spacingAndGlyphs">-0.1</text>
<text x="527.52" y="757.80" font-size="12.30" text-anchor="middle" fill="#262626" textLength="18.45" lengthAdjust="spacingAndGlyphs">6.2</text>
<text x="569.28" y="757.80" font-size="12.30" text-anchor="middle" fill="#262626" textLength="18.45" lengthAdjust="spacingAndGlyphs">1.2</text>
<text x="611.05" y="757.80" font-size="12.30" text-anchor="middle" fill="#262626" textLength="18.45" lengthAdjust="spacingAndGlyphs">6.2</text>
<text x="652.82" y="757.80" font-size="12.30" text-anchor="middle" fill="#262626" textLength="33.43" lengthAdjust="spacingAndGlyphs">10:30</text>
<text x="694.58" y="757.80" font-size="12.30" text-anchor="middle" fill="#262626" textLength="22.14" lengthAdjust="spacingAndGlyphs">103</text>
<text x="736.35" y="757.80" font-size="12.30" text-anchor="middle" fill="#262626" textLength="14.76" lengthAdjust="spacingAndGlyphs">59</text>
<text x="778.12" y="757.80" font-size="12.30" text-anchor="middle" fill="#262626" textLength="36.85" lengthAdjust="spacingAndGlyphs">54.9%</text>
<text x="819.88" y="757.80" font-size="12.30" text-anchor="middle" fill="#262626" textLength="36.85" lengthAdjust="spacingAndGlyphs">33.2%</text>
<text x="861.65" y="757.80" font-size="12.30" text-anchor="middle" fill="#262626" textLength="36.85" lengthAdjust="spacingAndGlyphs">28.3%</text>
<text x="903.42" y="757.80" font-size="12.30" text-anchor="middle" fill="#262626" textLength="33.21" lengthAdjust="spacingAndGlyphs">0.378</text>
<text x="124.50" y="787.60" font-size="12.30" font-weight="bold" text-anchor="middle" fill="#000000" textLength="65.59" lengthAdjust="spacingAndGlyphs">Changeup</text>
<text x="193.38" y="787.60" font-size="12.30" text-anchor="middle" fill="#262626" textLength="22.14" lengthAdjust="spacingAndGlyphs">207</text>
<text x="235.15" y="787.60" font-size="12.30" text-anchor="middle" fill="#262626" textLength="36.85" lengthAdjust="spacingAndGlyphs">19.2%</text>
<text x="276.92" y="787.60" font-size="12.30" text-anchor="middle" fill="#262626" textLength="25.83" lengthAdjust="spacingAndGlyphs">84.4</text>
<text x="318.68" y="787.60" font-size="12.30" text-anchor="middle" fill="#262626" textLength="25.83" lengthAdjust="spacingAndGlyphs">11.5</text>
<text x="360.45" y="787.60" font-size="12.30" text-anchor="middle" fill="#262626" textLength="25.83" lengthAdjust="spacingAndGlyphs">16.2</text>
<text x="402.22" y="787.60" font-size="12.30" text-anchor="middle" fill="#262626" textLength="33.21" lengthAdjust="spacingAndGlyphs">2,069</text>
<text x="443.98" y="787.60" font-size="12.30" text-anchor="middle" fill="#262626" textLength="22.63" lengthAdjust="spacingAndGlyphs">-7.2</text>
<text x="485.75" y="787.60" font-size="12.30" text-anchor="middle" fill="#262626" textLength="18.45" lengthAdjust="spacingAndGlyphs">0.4</text>
<text x="527.52" y="787.60" font-size="12.30" text-anchor="middle" fill="#262626" textLength="18.45" lengthAdjust="spacingAndGlyphs">6.1</text>
<text x="569.28" y="787.60" font-size="12.30" text-anchor="middle" fill="#262626" textLength="18.45" lengthAdjust="spacingAndGlyphs">1.3</text>
<text x="611.05" y="787.60" font-size="12.30" text-anchor="middle" fill="#262626" textLength="18.45" lengthAdjust="spacingAndGlyphs">6.3</text>
<text x="652.82" y="787.60" font-size="12.30" text-anchor="middle" fill="#262626" textLength="33.43" lengthAdjust="spacingAndGlyphs">10:00</text>
<text x="694.58" y="787.60" font-size="12.30" text-anchor="middle" fill="#262626" textLength="22.14" lengthAdjust="spacingAndGlyphs">104</text>
<text x="736.35" y="787.60" font-size="12.30" text-anchor="middle" fill="#262626" textLength="14.76" lengthAdjust="spacingAndGlyphs">63</text>
<text x="778.12" y="787.60" font-size="12.30" text-anchor="middle" fill="#262626" textLength="36.85" lengthAdjust="spacingAndGlyphs">50.2%</text>
<text x="819.88" y="787.60" font-size="12.30" text-anchor="middle" fill="#262626" textLength="36.85" lengthAdjust="spacingAndGlyphs">29.1%</text>
<text x="861.65" y="787.60" font-size="12.30" text-anchor="middle" fill="#262626" textLength="36.85" lengthAdjust="spacingAndGlyphs">50.4%</text>
<text x="903.42" y="787.60" font-size="12.30" text-anchor="middle" fill="#262626" textLength="33.21" lengthAdjust="spacingAndGlyphs">0.268</text>
<text x="124.50" y="817.40" font-size="12.30" font-weight="bold" text-anchor="middle" fill="#000000" textLength="38.20" lengthAdjust="spacingAndGlyphs">Slider</text>
<text x="193.38" y="817.40" font-size="12.30" text-anchor="middle" fill="#262626" textLength="22.14" lengthAdjust="spacingAndGlyphs">149</text>
<text x="235.15" y="817.40" font-size="12.30" text-anchor="middle" fill="#262626" textLength="36.85" lengthAdjust="spacingAndGlyphs">13.8%</text>
<text x="276.92" y="817.40" font-size="12.30" text-anchor="middle" fill="#262626" textLength="25.83" lengthAdjust="spacingAndGlyphs">84.7</text>
<text x="318.68" y="817.40" font-size="12.30" text-anchor="middle" fill="#262626" textLength="22.63" lengthAdjust="spacingAndGlyphs">-2.5</text>
<text x="360.45" y="817.40" font-size="12.30" text-anchor="middle" fill="#262626" textLength="22.63" lengthAdjust="spacingAndGlyphs">-1.8</text>
<text x="402.22" y="817.40" font-size="12.30" text-anchor="middle" fill="#262626" textLength="33.21" lengthAdjust="spacingAndGlyphs">2,651</text>
<text x="443.98" y="817.40" font-size="12.30" text-anchor="middle" fill="#262626" textLength="22.63" lengthAdjust="spacingAndGlyphs">-8.7</text>
<text x="485.75" y="817.40" font-size="12.30" text-anchor="middle" fill="#262626" textLength="22.63" lengthAdjust="spacingAndGlyphs">-2.2</text>
<text x="527.52" y="817.40" font-size="12.30" text-anchor="middle" fill="#262626" textLength="18.45" lengthAdjust="spacingAndGlyphs">6.1</text>
<text x="569.28" y="817.40" font-size="12.30" text-anchor="middle" fill="#262626" textLength="18.45" lengthAdjust="spacingAndGlyphs">1.5</text>
<text x="611.05" y="817.40" font-size="12.30" text-anchor="middle" fill="#262626" textLength="18.45" lengthAdjust="spacingAndGlyphs">6.1</text>
<text x="652.82" y="817.40" font-size="12.30" text-anchor="middle" fill="#262626" textLength="26.05" lengthAdjust="spacingAndGlyphs">3:45</text>
<text x="694.58" y="817.40" font-size="12.30" text-anchor="middle" fill="#262626" textLength="22.14" lengthAdjust="spacingAndGlyphs">107</text>
<text x="736.35" y="817.40" font-size="12.30" text-anchor="middle" fill="#262626" textLength="14.76" lengthAdjust="spacingAndGlyphs">57</text>
<text x="778.12" y="817.40" font-size="12.30" text-anchor="middle" fill="#262626" textLength="36.85" lengthAdjust="spacingAndGlyphs">45.0%</text>
<text x="819.88" y="817.40" font-size="12.30" text-anchor="middle" fill="#262626" textLength="36.85" lengthAdjust="spacingAndGlyphs">34.1%</text>
<text x="861.65" y="817.40" font-size="12.30" text-anchor="middle" fill="#262626" textLength="36.85" lengthAdjust="spacingAndGlyphs">43.4%</text>
<text x="903.42" y="817.40" font-size="12.30" text-anchor="middle" fill="#262626" textLength="33.21" lengthAdjust="spacingAndGlyphs">0.412</text>
<text x="124.50" y="847.20" font-size="12.30" font-weight="bold" text-anchor="middle" fill="#ffffff" textLength="93.90" lengthAdjust="spacingAndGlyphs">Knuckle Curve</text>
<text x="193.38" y="847.20" font-size="12.30" text-anchor="middle" fill="#262626" textLength="22.14" lengthAdjust="spacingAndGlyphs">138</text>
<text x="235.15" y="847.20" font-size="12.30" text-anchor="middle" fill="#262626" textLength="36.85" lengthAdjust="spacingAndGlyphs">12.8%</text>
<text x="276.92" y="847.20" font-size="12.30" text-anchor="middle" fill="#262626" textLength="25.83" lengthAdjust="spacingAndGlyphs">80.1</text>
<text x="318.68" y="847.20" font-size="12.30" text-anchor="middle" fill="#262626" textLength="30.01" lengthAdjust="spacingAndGlyphs">-13.1</text>
<text x="360.45" y="847.20" font-size="12.30" text-anchor="middle" fill="#262626" textLength="30.01" lengthAdjust="spacingAndGlyphs">-11.5</text>
<text x="402.22" y="847.20" font-size="12.30" text-anchor="middle" fill="#262626" textLength="33.21" lengthAdjust="spacingAndGlyphs">2,462</text>
<text x="443.98" y="847.20" font-size="12.30" text-anchor="middle" fill="#262626" textLength="30.01" lengthAdjust="spacingAndGlyphs">-10.2</text>
<text x="485.75" y="847.20" font-size="12.30" text-anchor="middle" fill="#262626" textLength="22.63" lengthAdjust="spacingAndGlyphs">-2.6</text>
<text x="527.52" y="847.20" font-size="12.30" text-anchor="middle" fill="#262626" textLength="18.45" lengthAdjust="spacingAndGlyphs">6.2</text>
<text x="569.28" y="847.20" font-size="12.30" text-anchor="middle" fill="#262626" textLength="18.45" lengthAdjust="spacingAndGlyphs">1.3</text>
<text x="611.05" y="847.20" font-size="12.30" text-anchor="middle" fill="#262626" textLength="18.45" lengthAdjust="spacingAndGlyphs">6.1</text>
<text x="652.82" y="847.20" font-size="12.30" text-anchor="middle" fill="#262626" textLength="26.05" lengthAdjust="spacingAndGlyphs">5:00</text>
<text x="694.58" y="847.20" font-size="12.30" text-anchor="middle" fill="#262626" textLength="22.14" lengthAdjust="spacingAndGlyphs">103</text>
<text x="736.35" y="847.20" font-size="12.30" text-anchor="middle" fill="#262626" textLength="14.76" lengthAdjust="spacingAndGlyphs">54</text>
<text x="778.12" y="847.20" font-size="12.30" text-anchor="middle" fill="#262626" textLength="36.85" lengthAdjust="spacingAndGlyphs">42.8%</text>
<text x="819.88" y="847.20" font-size="12.30" text-anchor="middle" fill="#262626" textLength="36.85" lengthAdjust="spacingAndGlyphs">15.2%</text>
<text x="861.65" y="847.20" font-size="12.30" text-anchor="middle" fill="#262626" textLength="36.85" lengthAdjust="spacingAndGlyphs">32.4%</text>
<text x="903.42" y="847.20" font-size="12.30" text-anchor="middle" fill="#262626" textLength="33.21" lengthAdjust="spacingAndGlyphs">0.319</text>
<text x="124.50" y="877.00" font-size="12.30" font-weight="bold" text-anchor="middle" fill="#ffffff" textLength="41.45" lengthAdjust="spacingAndGlyphs">Cutter</text>
<text x="193.38" y="877.00" font-size="12.30" text-anchor="middle" fill="#262626" textLength="14.76" lengthAdjust="spacingAndGlyphs">51</text>
<text x="235.15" y="877.00" font-size="12.30" text-anchor="middle" fill="#262626" textLength="29.47" lengthAdjust="spacingAndGlyphs">4.7%</text>
<text x="276.92" y="877.00" font-size="12.30" text-anchor="middle" fill="#262626" textLength="25.83" lengthAdjust="spacingAndGlyphs">89.9</text>
<text x="318.68" y="877.00" font-size="12.30" text-anchor="middle" fill="#262626" textLength="18.45" lengthAdjust="spacingAndGlyphs">8.1</text>
<text x="360.45" y="877.00" font-size="12.30" text-anchor="middle" fill="#262626" textLength="22.63" lengthAdjust="spacingAndGlyphs">-0.3</text>
<text x="402.22" y="877.00" font-size="12.30" text-anchor="middle" fill="#262626" textLength="33.21" lengthAdjust="spacingAndGlyphs">2,585</text>
<text x="443.98" y="877.00" font-size="12.30" text-anchor="middle" fill="#262626" textLength="22.63" lengthAdjust="spacingAndGlyphs">-6.5</text>
<text x="485.75" y="877.00" font-size="12.30" text-anchor="middle" fill="#262626" textLength="22.63" lengthAdjust="spacingAndGlyphs">-1.9</text>
<text x="527.52" y="877.00" font-size="12.30" text-anchor="middle" fill="#262626" textLength="18.45" lengthAdjust="spacingAndGlyphs">6.0</text>
<text x="569.28" y="877.00" font-size="12.30" text-anchor="middle" fill="#262626" textLength="18.45" lengthAdjust="spacingAndGlyphs">1.5</text>
<text x="611.05" y="877.00" font-size="12.30" text-anchor="middle" fill="#262626" textLength="18.45" lengthAdjust="spacingAndGlyphs">6.2</text>
<text x="652.82" y="877.00" font-size="12.30" text-anchor="middle" fill="#262626" textLength="33.43" lengthAdjust="spacingAndGlyphs">11:00</text>
<text x="694.58" y="877.00" font-size="12.30" text-anchor="middle" fill="#262626" textLength="22.14" lengthAdjust="spacingAndGlyphs">100</text>
<text x="736.35" y="877.00" font-size="12.30" text-anchor="middle" fill="#262626" textLength="14.76" lengthAdjust="spacingAndGlyphs">53</text>
<text x="778.12" y="877.00" font-size="12.30" text-anchor="middle" fill="#262626" textLength="36.85" lengthAdjust="spacingAndGlyphs">68.6%</text>
<text x="819.88" y="877.00" font-size="12.30" text-anchor="middle" fill="#262626" textLength="36.85" lengthAdjust="spacingAndGlyphs">31.2%</text>
<text x="861.65" y="877.00" font-size="12.30" text-anchor="middle" fill="#262626" textLength="36.85" lengthAdjust="spacingAndGlyphs">11.5%</text>
<text x="903.42" y="877.00" font-size="12.30" text-anchor="middle" fill="#262626" textLength="33.21" lengthAdjust="spacingAndGlyphs">0.550</text>
<text x="124.50" y="906.80" font-size="12.30" font-weight="bold" text-anchor="middle" fill="#000000" textLength="16.93" lengthAdjust="spacingAndGlyphs">All</text>
<text x="193.38" y="906.80" font-size="12.30" text-anchor="middle" fill="#262626" textLength="29.52" lengthAdjust="spacingAndGlyphs">1079</text>
<text x="235.15" y="906.80" font-size="12.30" text-anchor="middle" fill="#262626" textLength="44.23" lengthAdjust="spacingAndGlyphs">100.0%</text>
<text x="276.92" y="906.80" font-size="12.30" text-anchor="middle" fill="#262626" textLength="11.60" lengthAdjust="spacingAndGlyphs">—</text>
<text x="318.68" y="906.80" font-size="12.30" text-anchor="middle" fill="#262626" textLength="11.60" lengthAdjust="spacingAndGlyphs">—</text>
<text x="360.45" y="906.80" font-size="12.30" text-anchor="middle" fill="#262626" textLength="11.60" lengthAdjust="spacingAndGlyphs">—</text>
<text x="402.22" y="906.80" font-size="12.30" text-anchor="middle" fill="#262626" textLength="11.60" lengthAdjust="spacingAndGlyphs">—</text>
<text x="443.98" y="906.80" font-size="12.30" text-anchor="middle" fill="#262626" textLength="11.60" lengthAdjust="spacingAndGlyphs">—</text>
<text x="485.75" y="906.80" font-size="12.30" text-anchor="middle" fill="#262626" textLength="11.60" lengthAdjust="spacingAndGlyphs">—</text>
<text x="527.52" y="906.80" font-size="12.30" text-anchor="middle" fill="#262626" textLength="11.60" lengthAdjust="spacingAndGlyphs">—</text>
<text x="569.28" y="906.80" font-size="12.30" text-anchor="middle" fill="#262626" textLength="11.60" lengthAdjust="spacingAndGlyphs">—</text>
<text x="611.05" y="906.80" font-size="12.30" text-anchor="middle" fill="#262626" textLength="18.45" lengthAdjust="spacingAndGlyphs">6.2</text>
<text x="652.82" y="906.80" font-size="12.30" text-anchor="middle" fill="#262626" textLength="11.60" lengthAdjust="spacingAndGlyphs">—</text>
<text x="694.58" y="906.80" font-size="12.30" text-anchor="middle" fill="#262626" textLength="22.14" lengthAdjust="spacingAndGlyphs">104</text>
<text x="736.35" y="906.80" font-size="12.30" text-anchor="middle" fill="#262626" textLength="11.60" lengthAdjust="spacingAndGlyphs">—</text>
<text x="778.12" y="906.80" font-size="12.30" text-anchor="middle" fill="#262626" textLength="36.85" lengthAdjust="spacingAndGlyphs">51.7%</text>
<text x="819.88" y="906.80" font-size="12.30" text-anchor="middle" fill="#262626" textLength="36.85" lengthAdjust="spacingAndGlyphs">29.8%</text>
<text x="861.65" y="906.80" font-size="12.30" text-anchor="middle" fill="#262626" textLength="36.85" lengthAdjust="spacingAndGlyphs">34.6%</text>
<text x="903.42" y="906.80" font-size="12.30" text-anchor="middle" fill="#262626" textLength="33.21" lengthAdjust="spacingAndGlyphs">0.362</text>
<text x="76.20" y="959.60" font-size="16.43" text-anchor="start" fill="#262626" textLength="97.94" lengthAdjust="spacingAndGlyphs">By: @TJStats</text>
<text x="924.00" y="959.20" font-size="16.43" text-anchor="end" fill="#262626" textLength="169.92" lengthAdjust="spacingAndGlyphs">Data: MLB, Fangraphs</text>
<text x="923.60" y="976.00" font-size="16.43" text-anchor="end" fill="#262626" textLength="149.84" lengthAdjust="spacingAndGlyphs">Images: MLB, ESPN</text>
<text x="514.20" y="936.00" font-size="8.27" text-anchor="middle" fill="#262626" textLength="206.64" lengthAdjust="spacingAndGlyphs">Colour Coding Compares to League Average By Pitch</text>
<text x="514.20" y="946.33" font-size="8.27" text-anchor="middle" fill="#262626" textLength="303.10" lengthAdjust="spacingAndGlyphs">tjStuff+ calculates the Expected Run Value (xRV) of a pitch regardless of type</text>
<text x="514.20" y="956.66" font-size="8.27" text-anchor="middle" fill="#262626" textLength="331.08" lengthAdjust="spacingAndGlyphs">tjStuff+ is normally distributed, where 100 is the mean and Standard Deviation is 10</text>
<text x="514.20" y="966.99" font-size="8.27" text-anchor="middle" fill="#262626" textLength="343.96" lengthAdjust="spacingAndGlyphs">Pitch Grade scales tjStuff+ to the traditional 20-80 Scouting Scale for a given pitch type</text>
<path d="M199.06,954.73 A32.20,32.20 0 0 1 242.74,926.64 L237.60,932.00 C237.17,932.50 236.72,934.80 235.00,935.00 C233.28,935.20 230.05,933.38 227.30,933.20 C224.55,933.02 221.25,933.17 218.50,933.90 C215.75,934.63 213.18,935.88 210.80,937.60 C208.42,939.32 205.93,941.92 204.20,944.20 C202.47,946.48 201.26,949.54 200.40,951.30 C199.54,953.06 199.28,954.16 199.06,954.73 Z" fill="#6b8cc8"/>
<path d="M208.60,938.00 C209.20,939.21 211.25,942.85 212.20,945.25 C213.15,947.65 213.90,950.11 214.30,952.40 C214.70,954.69 214.73,956.80 214.60,959.00 C214.47,961.20 214.10,963.40 213.50,965.60 C212.90,967.80 211.82,970.33 211.00,972.20 C210.18,974.07 209.00,976.03 208.60,976.80  L208.60,976.80 C209.13,976.03 210.78,974.07 211.80,972.20 C212.82,970.33 213.97,967.80 214.70,965.60 C215.43,963.40 215.97,961.20 216.20,959.00 C216.43,956.80 216.42,954.69 216.10,952.40 C215.78,950.11 215.15,947.65 214.30,945.25 C213.45,942.85 211.55,939.21 211.00,938.00  Z" fill="#6b8cc8"/>
<path d="M242.74,926.64 A32.20,32.20 0 1 1 216.33,985.26 C217.98,985.56 223.09,987.03 226.20,987.05 C229.31,987.07 232.43,986.41 235.00,985.40 C237.57,984.39 239.58,982.83 241.60,981.00 C243.62,979.17 245.54,976.78 247.10,974.40 C248.66,972.02 250.12,969.27 250.95,966.70 C251.77,964.13 252.14,961.57 252.05,959.00 C251.96,956.43 251.41,953.87 250.40,951.30 C249.39,948.73 247.74,945.89 246.00,943.60 C244.26,941.31 240.96,938.56 239.95,937.55 C239.31,938.38 237.29,940.58 236.10,942.50 C234.91,944.42 233.81,946.72 232.80,949.10 C231.79,951.48 230.84,954.90 230.05,956.80 C229.26,958.70 228.40,959.88 228.07,960.50 C228.12,959.15 227.89,955.03 228.40,952.40 C228.91,949.77 230.05,947.27 231.15,944.70 C232.25,942.13 233.93,939.12 235.00,937.00 C236.07,934.88 237.17,932.83 237.60,932.00 Z" fill="#dc1e7c"/>
<path d="M230.2,963.2 C231.5,970 234,976 237.4,981.2" stroke="#dc1e7c" stroke-width="2.3" stroke-dasharray="2.4,1.3" fill="none"/>
</svg>
</body></html>
